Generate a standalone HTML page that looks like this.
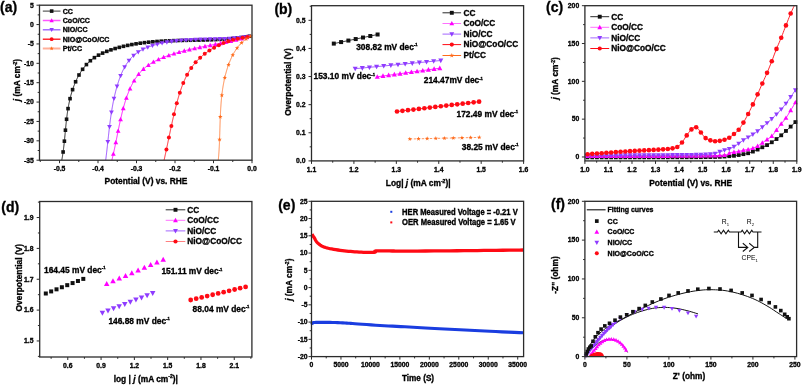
<!DOCTYPE html>
<html><head><meta charset="utf-8"><style>
html,body{margin:0;padding:0;background:#fff;width:804px;height:386px;overflow:hidden}
svg{display:block;will-change:transform}
</style></head><body>
<svg width="804" height="386" viewBox="0 0 804 386" font-family='"Liberation Sans", sans-serif'><style>text{stroke:#000;stroke-width:0.32px;paint-order:stroke}</style><rect width="804" height="386" fill="#fff"/><text x="0.00" y="11.90" font-size="14" font-weight="bold" fill="#000">(a)</text><g><path d="M250.92 35.97 L250.04 36.13 L249.16 36.29 L248.27 36.44 L247.38 36.59 L246.50 36.73 L245.61 36.87 L244.72 37.00 L243.83 37.14 L242.94 37.26 L242.05 37.39 L241.16 37.50 L240.27 37.62 L239.38 37.73 L238.49 37.84 L237.59 37.95 L236.70 38.05 L235.81 38.14 L234.91 38.24 L234.02 38.33 L233.12 38.42 L232.22 38.50 L231.33 38.59 L230.43 38.67 L229.53 38.74 L228.63 38.82 L227.73 38.89 L226.83 38.96 L225.93 39.02 L225.03 39.08 L224.13 39.14 L223.23 39.20 L222.33 39.26 L221.43 39.31 L220.52 39.36 L219.62 39.41 L218.72 39.46 L217.81 39.50 L216.91 39.55 L216.01 39.59 L215.10 39.63 L214.20 39.66 L213.29 39.70 L212.39 39.74 L211.48 39.77 L210.57 39.80 L209.67 39.83 L208.76 39.86 L207.85 39.88 L206.95 39.91 L206.04 39.94 L205.13 39.96 L204.23 39.98 L203.32 40.00 L202.41 40.03 L201.50 40.05 L200.59 40.07 L199.68 40.08 L198.78 40.10 L197.87 40.12 L196.96 40.14 L196.05 40.15 L195.14 40.17 L194.23 40.19 L193.32 40.20 L192.41 40.22 L191.50 40.24 L190.59 40.25 L189.69 40.27 L188.78 40.28 L187.87 40.30 L186.96 40.32 L186.05 40.33 L185.14 40.35 L184.23 40.37 L183.32 40.39 L182.41 40.41 L181.50 40.43 L180.59 40.45 L179.68 40.47 L178.78 40.49 L177.87 40.51 L176.96 40.54 L176.05 40.56 L175.14 40.59 L174.23 40.62 L173.33 40.65 L172.42 40.68 L171.51 40.71 L170.60 40.74 L169.70 40.78 L168.79 40.81 L167.88 40.85 L166.98 40.89 L166.07 40.93 L165.17 40.98 L164.26 41.02 L163.35 41.07 L162.45 41.12 L161.55 41.17 L160.64 41.22 L159.74 41.28 L158.83 41.34 L157.93 41.40 L157.03 41.46 L156.13 41.53 L155.22 41.60 L154.32 41.67 L153.42 41.74 L152.52 41.82 L151.62 41.90 L150.72 41.98 L149.82 42.07 L148.92 42.16 L148.02 42.25 L147.12 42.35 L146.23 42.45 L145.33 42.55 L144.43 42.66 L143.54 42.76 L142.64 42.88 L141.75 42.99 L140.85 43.11 L139.96 43.24 L139.07 43.37 L138.17 43.50 L137.28 43.63 L136.39 43.77 L135.50 43.92 L134.61 44.07 L133.72 44.22 L132.83 44.37 L131.94 44.54 L131.05 44.70 L130.17 44.87 L129.28 45.05 L128.40 45.23 L127.51 45.41 L126.63 45.60 L125.75 45.79 L124.86 45.99 L123.98 46.19 L123.10 46.40 L122.22 46.62 L121.34 46.84 L120.46 47.06 L119.59 47.29 L118.71 47.53 L117.83 47.77 L116.96 48.01 L116.08 48.26 L115.21 48.52 L114.34 48.78 L113.47 49.05 L112.60 49.33 L111.73 49.61 L110.86 49.90 L110.00 50.19 L109.14 50.49 L108.28 50.80 L107.42 51.12 L106.57 51.45 L105.73 51.78 L104.89 52.13 L104.05 52.48 L103.22 52.84 L102.40 53.21 L101.58 53.59 L100.77 53.99 L99.97 54.39 L99.17 54.80 L98.38 55.23 L97.60 55.67 L96.83 56.11 L96.07 56.58 L95.32 57.05 L94.58 57.54 L93.85 58.03 L93.13 58.55 L92.42 59.07 L91.73 59.62 L91.04 60.17 L90.37 60.74 L89.71 61.32 L89.06 61.92 L88.42 62.53 L87.79 63.15 L87.18 63.78 L86.57 64.42 L85.98 65.08 L85.40 65.75 L84.83 66.43 L84.26 67.12 L83.72 67.82 L83.18 68.53 L82.65 69.25 L82.13 69.98 L81.62 70.72 L81.13 71.47 L80.64 72.22 L80.16 72.99 L79.69 73.76 L79.24 74.54 L78.79 75.33 L78.35 76.13 L77.93 76.93 L77.51 77.74 L77.10 78.56 L76.70 79.38 L76.31 80.21 L75.93 81.04 L75.56 81.88 L75.19 82.72 L74.84 83.57 L74.50 84.42 L74.16 85.27 L73.83 86.13 L73.51 87.00 L73.20 87.86 L72.90 88.73 L72.61 89.60 L72.32 90.48 L72.04 91.35 L71.78 92.23 L71.51 93.10 L71.26 93.98 L71.01 94.86 L70.78 95.74 L70.54 96.63 L70.32 97.51 L70.10 98.39 L69.89 99.28 L69.69 100.17 L69.49 101.05 L69.30 101.94 L69.11 102.83 L68.93 103.72 L68.76 104.61 L68.59 105.50 L68.43 106.40 L68.27 107.29 L68.12 108.18 L67.97 109.08 L67.82 109.97 L67.68 110.87 L67.55 111.76 L67.42 112.66 L67.29 113.56 L67.17 114.46 L67.05 115.35 L66.93 116.25 L66.82 117.15 L66.71 118.05 L66.60 118.95 L66.50 119.85 L66.40 120.75 L66.30 121.65 L66.20 122.55 L66.11 123.45 L66.01 124.35 L65.92 125.26 L65.83 126.16 L65.74 127.06 L65.66 127.96 L65.57 128.86 L65.48 129.76 L65.40 130.66 L65.31 131.56 L65.23 132.46 L65.14 133.36 L65.06 134.26 L64.97 135.16 L64.89 136.06 L64.80 136.96 L64.72 137.86 L64.63 138.76 L64.54 139.66 L64.45 140.56 L64.36 141.46 L64.27 142.35 L64.17 143.25 L64.07 144.14 L63.97 145.04 L63.87 145.93 L63.77 146.83 L63.66 147.72 L63.55 148.61 L63.44 149.51 L63.32 150.40 L63.20 151.29 L63.08 152.18 L62.95 153.07 L62.82 153.95 L62.69 154.84 L62.55 155.73 L62.41 156.61 L62.26 157.50 L62.11 158.38 L61.95 159.26 L61.79 160.14" stroke="#111111" stroke-width="0.9" fill="none" stroke-linejoin="round" /><rect x="61.31" y="150.18" width="3.60" height="3.60" fill="#111111"/><rect x="62.59" y="139.37" width="3.60" height="3.60" fill="#111111"/><rect x="63.64" y="128.38" width="3.60" height="3.60" fill="#111111"/><rect x="64.77" y="117.45" width="3.60" height="3.60" fill="#111111"/><rect x="66.24" y="106.82" width="3.60" height="3.60" fill="#111111"/><rect x="68.24" y="96.85" width="3.60" height="3.60" fill="#111111"/><rect x="70.79" y="87.85" width="3.60" height="3.60" fill="#111111"/><rect x="73.81" y="79.96" width="3.60" height="3.60" fill="#111111"/><rect x="77.18" y="73.20" width="3.60" height="3.60" fill="#111111"/><rect x="80.81" y="67.50" width="3.60" height="3.60" fill="#111111"/><rect x="84.63" y="62.78" width="3.60" height="3.60" fill="#111111"/><rect x="88.58" y="58.93" width="3.60" height="3.60" fill="#111111"/><rect x="92.62" y="55.85" width="3.60" height="3.60" fill="#111111"/><rect x="96.72" y="53.36" width="3.60" height="3.60" fill="#111111"/><rect x="100.85" y="51.30" width="3.60" height="3.60" fill="#111111"/><rect x="105.00" y="49.56" width="3.60" height="3.60" fill="#111111"/><rect x="109.16" y="48.06" width="3.60" height="3.60" fill="#111111"/><rect x="113.33" y="46.74" width="3.60" height="3.60" fill="#111111"/><rect x="117.51" y="45.56" width="3.60" height="3.60" fill="#111111"/><rect x="121.69" y="44.51" width="3.60" height="3.60" fill="#111111"/><rect x="125.88" y="43.58" width="3.60" height="3.60" fill="#111111"/><rect x="130.06" y="42.75" width="3.60" height="3.60" fill="#111111"/><rect x="134.26" y="42.03" width="3.60" height="3.60" fill="#111111"/><rect x="138.45" y="41.40" width="3.60" height="3.60" fill="#111111"/><rect x="142.64" y="40.85" width="3.60" height="3.60" fill="#111111"/><rect x="146.84" y="40.39" width="3.60" height="3.60" fill="#111111"/><rect x="151.04" y="39.99" width="3.60" height="3.60" fill="#111111"/><rect x="155.24" y="39.66" width="3.60" height="3.60" fill="#111111"/><rect x="159.44" y="39.39" width="3.60" height="3.60" fill="#111111"/><rect x="163.63" y="39.16" width="3.60" height="3.60" fill="#111111"/><rect x="167.83" y="38.98" width="3.60" height="3.60" fill="#111111"/><rect x="172.03" y="38.83" width="3.60" height="3.60" fill="#111111"/><rect x="176.23" y="38.71" width="3.60" height="3.60" fill="#111111"/><rect x="180.43" y="38.61" width="3.60" height="3.60" fill="#111111"/><rect x="184.63" y="38.53" width="3.60" height="3.60" fill="#111111"/><rect x="188.83" y="38.45" width="3.60" height="3.60" fill="#111111"/><rect x="193.03" y="38.38" width="3.60" height="3.60" fill="#111111"/><rect x="197.23" y="38.30" width="3.60" height="3.60" fill="#111111"/><rect x="201.43" y="38.21" width="3.60" height="3.60" fill="#111111"/><rect x="205.63" y="38.10" width="3.60" height="3.60" fill="#111111"/><rect x="209.83" y="37.96" width="3.60" height="3.60" fill="#111111"/><rect x="214.03" y="37.80" width="3.60" height="3.60" fill="#111111"/><rect x="218.23" y="37.59" width="3.60" height="3.60" fill="#111111"/><rect x="222.43" y="37.34" width="3.60" height="3.60" fill="#111111"/><rect x="226.63" y="37.03" width="3.60" height="3.60" fill="#111111"/><rect x="230.83" y="36.67" width="3.60" height="3.60" fill="#111111"/><rect x="235.02" y="36.23" width="3.60" height="3.60" fill="#111111"/><rect x="239.22" y="35.72" width="3.60" height="3.60" fill="#111111"/><rect x="243.41" y="35.13" width="3.60" height="3.60" fill="#111111"/><rect x="247.61" y="34.45" width="3.60" height="3.60" fill="#111111"/><path d="M250.93 36.07 L250.25 36.28 L249.57 36.48 L248.89 36.69 L248.21 36.89 L247.53 37.08 L246.85 37.28 L246.17 37.47 L245.48 37.66 L244.80 37.84 L244.12 38.03 L243.43 38.21 L242.75 38.39 L242.06 38.57 L241.38 38.74 L240.70 38.92 L240.01 39.09 L239.32 39.26 L238.64 39.43 L237.95 39.59 L237.27 39.76 L236.58 39.92 L235.89 40.08 L235.20 40.24 L234.52 40.40 L233.83 40.55 L233.14 40.71 L232.45 40.86 L231.76 41.01 L231.07 41.16 L230.38 41.31 L229.69 41.46 L229.00 41.60 L228.31 41.75 L227.62 41.89 L226.93 42.04 L226.24 42.18 L225.55 42.32 L224.86 42.46 L224.17 42.60 L223.48 42.74 L222.79 42.87 L222.10 43.01 L221.40 43.15 L220.71 43.28 L220.02 43.42 L219.33 43.55 L218.64 43.68 L217.94 43.82 L217.25 43.95 L216.56 44.08 L215.87 44.22 L215.17 44.35 L214.48 44.48 L213.79 44.61 L213.10 44.74 L212.40 44.88 L211.71 45.01 L211.02 45.14 L210.33 45.27 L209.63 45.40 L208.94 45.54 L208.25 45.67 L207.56 45.80 L206.86 45.94 L206.17 46.07 L205.48 46.21 L204.79 46.34 L204.09 46.48 L203.40 46.61 L202.71 46.75 L202.02 46.89 L201.32 47.02 L200.63 47.16 L199.94 47.30 L199.25 47.45 L198.56 47.59 L197.86 47.73 L197.17 47.87 L196.48 48.02 L195.79 48.17 L195.10 48.31 L194.41 48.46 L193.72 48.61 L193.03 48.76 L192.34 48.92 L191.65 49.07 L190.96 49.23 L190.27 49.38 L189.58 49.54 L188.89 49.70 L188.20 49.87 L187.51 50.03 L186.82 50.20 L186.14 50.37 L185.45 50.54 L184.76 50.71 L184.07 50.88 L183.39 51.06 L182.70 51.24 L182.01 51.42 L181.33 51.60 L180.64 51.78 L179.96 51.97 L179.27 52.16 L178.59 52.35 L177.90 52.55 L177.22 52.74 L176.53 52.94 L175.85 53.15 L175.17 53.35 L174.48 53.56 L173.80 53.77 L173.12 53.98 L172.44 54.20 L171.76 54.42 L171.08 54.64 L170.40 54.86 L169.72 55.09 L169.04 55.32 L168.36 55.56 L167.68 55.79 L167.00 56.04 L166.33 56.28 L165.65 56.53 L164.98 56.78 L164.31 57.04 L163.64 57.29 L162.97 57.56 L162.30 57.83 L161.64 58.10 L160.98 58.38 L160.32 58.66 L159.66 58.94 L159.01 59.23 L158.36 59.53 L157.71 59.83 L157.07 60.14 L156.43 60.45 L155.79 60.76 L155.16 61.09 L154.53 61.41 L153.91 61.75 L153.29 62.09 L152.68 62.43 L152.07 62.78 L151.47 63.14 L150.87 63.50 L150.28 63.87 L149.69 64.25 L149.11 64.63 L148.54 65.02 L147.97 65.42 L147.41 65.82 L146.85 66.24 L146.30 66.65 L145.76 67.08 L145.23 67.51 L144.70 67.95 L144.18 68.40 L143.67 68.86 L143.17 69.32 L142.67 69.79 L142.18 70.27 L141.70 70.76 L141.23 71.25 L140.76 71.75 L140.30 72.26 L139.85 72.77 L139.40 73.29 L138.96 73.82 L138.53 74.35 L138.11 74.89 L137.69 75.44 L137.27 75.99 L136.87 76.55 L136.47 77.11 L136.08 77.68 L135.69 78.25 L135.31 78.83 L134.93 79.42 L134.56 80.01 L134.20 80.60 L133.84 81.20 L133.49 81.80 L133.15 82.41 L132.81 83.03 L132.47 83.65 L132.14 84.27 L131.82 84.89 L131.50 85.52 L131.18 86.16 L130.88 86.80 L130.57 87.44 L130.27 88.08 L129.98 88.73 L129.69 89.38 L129.41 90.04 L129.13 90.70 L128.85 91.36 L128.58 92.02 L128.32 92.69 L128.05 93.36 L127.80 94.03 L127.54 94.70 L127.29 95.38 L127.05 96.06 L126.81 96.74 L126.57 97.42 L126.34 98.10 L126.11 98.79 L125.88 99.48 L125.66 100.16 L125.44 100.85 L125.22 101.54 L125.01 102.23 L124.80 102.93 L124.59 103.62 L124.39 104.31 L124.19 105.00 L123.99 105.70 L123.79 106.39 L123.60 107.09 L123.41 107.78 L123.23 108.48 L123.04 109.17 L122.86 109.86 L122.68 110.56 L122.50 111.25 L122.33 111.94 L122.15 112.63 L121.98 113.32 L121.81 114.02 L121.65 114.71 L121.48 115.40 L121.32 116.09 L121.16 116.78 L121.00 117.47 L120.84 118.16 L120.68 118.85 L120.53 119.54 L120.38 120.22 L120.22 120.91 L120.07 121.60 L119.92 122.29 L119.78 122.98 L119.63 123.67 L119.48 124.35 L119.34 125.04 L119.20 125.73 L119.05 126.42 L118.91 127.10 L118.77 127.79 L118.63 128.48 L118.49 129.16 L118.35 129.85 L118.21 130.54 L118.07 131.22 L117.93 131.91 L117.80 132.60 L117.66 133.28 L117.52 133.97 L117.39 134.66 L117.25 135.34 L117.11 136.03 L116.98 136.72 L116.84 137.40 L116.70 138.09 L116.56 138.78 L116.43 139.46 L116.29 140.15 L116.15 140.84 L116.01 141.53 L115.87 142.21 L115.73 142.90 L115.59 143.59 L115.45 144.28 L115.31 144.97 L115.16 145.65 L115.02 146.34 L114.87 147.03 L114.73 147.72 L114.58 148.41 L114.43 149.10 L114.28 149.79 L114.13 150.48 L113.98 151.17 L113.83 151.86 L113.67 152.55 L113.51 153.24 L113.36 153.93 L113.20 154.62 L113.03 155.31 L112.87 156.01 L112.71 156.70 L112.54 157.39 L112.37 158.09 L112.20 158.78 L112.02 159.47 L111.85 160.17" stroke="#ff00ff" stroke-width="0.9" fill="none" stroke-linejoin="round" /><path d="M113.35 151.49L115.71 155.79L110.98 155.79Z" fill="#ff00ff"/><path d="M115.81 140.04L118.18 144.34L113.45 144.34Z" fill="#ff00ff"/><path d="M118.14 128.42L120.50 132.72L115.77 132.72Z" fill="#ff00ff"/><path d="M120.56 116.92L122.93 121.22L118.20 121.22Z" fill="#ff00ff"/><path d="M123.27 105.83L125.64 110.13L120.91 110.13Z" fill="#ff00ff"/><path d="M126.40 95.45L128.76 99.75L124.03 99.75Z" fill="#ff00ff"/><path d="M130.03 86.15L132.39 90.45L127.66 90.45Z" fill="#ff00ff"/><path d="M134.14 78.22L136.51 82.52L131.78 82.52Z" fill="#ff00ff"/><path d="M138.65 71.74L141.01 76.04L136.28 76.04Z" fill="#ff00ff"/><path d="M143.42 66.62L145.79 70.92L141.06 70.92Z" fill="#ff00ff"/><path d="M148.37 62.66L150.74 66.96L146.01 66.96Z" fill="#ff00ff"/><path d="M153.42 59.54L155.79 63.84L151.06 63.84Z" fill="#ff00ff"/><path d="M158.52 56.98L160.89 61.28L156.16 61.28Z" fill="#ff00ff"/><path d="M163.65 54.82L166.01 59.12L161.28 59.12Z" fill="#ff00ff"/><path d="M168.79 52.93L171.16 57.23L166.43 57.23Z" fill="#ff00ff"/><path d="M173.95 51.25L176.31 55.55L171.58 55.55Z" fill="#ff00ff"/><path d="M179.11 49.73L181.48 54.03L176.75 54.03Z" fill="#ff00ff"/><path d="M184.28 48.36L186.65 52.66L181.92 52.66Z" fill="#ff00ff"/><path d="M189.46 47.10L191.82 51.40L187.09 51.40Z" fill="#ff00ff"/><path d="M194.64 45.94L197.00 50.24L192.27 50.24Z" fill="#ff00ff"/><path d="M199.82 44.86L202.19 49.16L197.46 49.16Z" fill="#ff00ff"/><path d="M205.00 43.83L207.37 48.13L202.64 48.13Z" fill="#ff00ff"/><path d="M210.19 42.83L212.55 47.13L207.82 47.13Z" fill="#ff00ff"/><path d="M215.37 41.84L217.74 46.14L213.01 46.14Z" fill="#ff00ff"/><path d="M220.56 40.84L222.92 45.14L218.19 45.14Z" fill="#ff00ff"/><path d="M225.74 39.81L228.11 44.11L223.38 44.11Z" fill="#ff00ff"/><path d="M230.92 38.72L233.29 43.02L228.56 43.02Z" fill="#ff00ff"/><path d="M236.10 37.56L238.47 41.86L233.74 41.86Z" fill="#ff00ff"/><path d="M241.28 36.30L243.64 40.60L238.91 40.60Z" fill="#ff00ff"/><path d="M246.45 34.92L248.81 39.22L244.08 39.22Z" fill="#ff00ff"/><path d="M250.90 36.05 L250.15 36.19 L249.40 36.32 L248.65 36.45 L247.90 36.57 L247.15 36.69 L246.40 36.80 L245.65 36.92 L244.89 37.02 L244.14 37.13 L243.38 37.23 L242.63 37.32 L241.87 37.41 L241.11 37.50 L240.35 37.59 L239.59 37.67 L238.83 37.75 L238.07 37.83 L237.31 37.90 L236.55 37.97 L235.78 38.04 L235.02 38.10 L234.25 38.16 L233.49 38.22 L232.72 38.28 L231.96 38.33 L231.19 38.38 L230.42 38.43 L229.65 38.48 L228.88 38.53 L228.11 38.57 L227.34 38.61 L226.57 38.65 L225.80 38.68 L225.03 38.72 L224.26 38.75 L223.48 38.79 L222.71 38.82 L221.94 38.85 L221.16 38.87 L220.39 38.90 L219.62 38.92 L218.84 38.95 L218.06 38.97 L217.29 38.99 L216.51 39.01 L215.74 39.03 L214.96 39.05 L214.18 39.07 L213.41 39.09 L212.63 39.11 L211.85 39.13 L211.07 39.14 L210.29 39.16 L209.52 39.18 L208.74 39.19 L207.96 39.21 L207.18 39.23 L206.40 39.25 L205.62 39.26 L204.84 39.28 L204.06 39.30 L203.29 39.32 L202.51 39.34 L201.73 39.36 L200.95 39.38 L200.17 39.40 L199.39 39.42 L198.61 39.44 L197.83 39.47 L197.05 39.49 L196.27 39.52 L195.50 39.54 L194.72 39.57 L193.94 39.60 L193.16 39.64 L192.38 39.67 L191.60 39.70 L190.83 39.74 L190.05 39.78 L189.27 39.82 L188.49 39.86 L187.72 39.91 L186.94 39.96 L186.16 40.00 L185.39 40.06 L184.61 40.11 L183.84 40.17 L183.06 40.23 L182.29 40.29 L181.51 40.35 L180.74 40.42 L179.96 40.49 L179.19 40.56 L178.42 40.64 L177.65 40.72 L176.88 40.80 L176.10 40.88 L175.33 40.97 L174.56 41.07 L173.79 41.16 L173.03 41.26 L172.26 41.36 L171.49 41.47 L170.72 41.58 L169.95 41.70 L169.19 41.82 L168.42 41.94 L167.66 42.07 L166.90 42.20 L166.13 42.33 L165.37 42.47 L164.61 42.62 L163.85 42.77 L163.09 42.92 L162.33 43.08 L161.57 43.24 L160.81 43.41 L160.05 43.58 L159.30 43.76 L158.54 43.94 L157.79 44.13 L157.03 44.33 L156.28 44.52 L155.53 44.73 L154.78 44.94 L154.03 45.15 L153.28 45.38 L152.54 45.60 L151.79 45.84 L151.05 46.08 L150.32 46.33 L149.58 46.58 L148.85 46.85 L148.13 47.12 L147.40 47.39 L146.69 47.68 L145.98 47.97 L145.27 48.28 L144.57 48.59 L143.87 48.90 L143.18 49.23 L142.50 49.57 L141.82 49.92 L141.15 50.27 L140.49 50.64 L139.84 51.01 L139.19 51.40 L138.56 51.79 L137.93 52.20 L137.31 52.62 L136.70 53.05 L136.09 53.49 L135.50 53.94 L134.92 54.40 L134.35 54.87 L133.79 55.36 L133.24 55.85 L132.70 56.36 L132.18 56.88 L131.66 57.41 L131.15 57.95 L130.65 58.50 L130.16 59.06 L129.68 59.64 L129.21 60.22 L128.75 60.80 L128.29 61.40 L127.85 62.01 L127.42 62.63 L126.99 63.25 L126.57 63.88 L126.16 64.52 L125.76 65.17 L125.37 65.83 L124.99 66.49 L124.61 67.16 L124.24 67.83 L123.88 68.51 L123.52 69.20 L123.18 69.90 L122.84 70.60 L122.50 71.30 L122.18 72.01 L121.86 72.72 L121.54 73.44 L121.24 74.17 L120.94 74.90 L120.64 75.63 L120.36 76.36 L120.07 77.10 L119.80 77.84 L119.53 78.59 L119.26 79.34 L119.00 80.09 L118.75 80.84 L118.50 81.59 L118.25 82.35 L118.01 83.11 L117.77 83.87 L117.54 84.63 L117.32 85.39 L117.09 86.15 L116.87 86.91 L116.66 87.67 L116.45 88.43 L116.24 89.19 L116.04 89.95 L115.84 90.71 L115.64 91.47 L115.45 92.23 L115.26 92.99 L115.07 93.75 L114.89 94.51 L114.71 95.27 L114.53 96.03 L114.36 96.80 L114.19 97.56 L114.02 98.32 L113.86 99.08 L113.70 99.84 L113.54 100.60 L113.39 101.36 L113.24 102.12 L113.09 102.88 L112.94 103.64 L112.80 104.40 L112.66 105.16 L112.52 105.92 L112.38 106.68 L112.25 107.44 L112.12 108.20 L111.99 108.96 L111.86 109.72 L111.74 110.48 L111.61 111.24 L111.49 112.00 L111.37 112.76 L111.26 113.52 L111.14 114.28 L111.03 115.05 L110.92 115.81 L110.81 116.57 L110.70 117.33 L110.60 118.09 L110.50 118.85 L110.39 119.61 L110.29 120.37 L110.19 121.13 L110.09 121.90 L110.00 122.66 L109.90 123.42 L109.81 124.18 L109.71 124.94 L109.62 125.71 L109.53 126.47 L109.44 127.23 L109.35 127.99 L109.26 128.76 L109.17 129.52 L109.09 130.28 L109.00 131.04 L108.92 131.81 L108.83 132.57 L108.75 133.33 L108.66 134.10 L108.58 134.86 L108.49 135.62 L108.41 136.39 L108.33 137.15 L108.25 137.92 L108.16 138.68 L108.08 139.45 L108.00 140.21 L107.92 140.98 L107.84 141.74 L107.75 142.51 L107.67 143.27 L107.59 144.04 L107.50 144.80 L107.42 145.57 L107.34 146.34 L107.25 147.10 L107.17 147.87 L107.08 148.64 L106.99 149.40 L106.91 150.17 L106.82 150.94 L106.73 151.71 L106.64 152.48 L106.55 153.24 L106.46 154.01 L106.37 154.78 L106.27 155.55 L106.18 156.32 L106.08 157.09 L105.99 157.86 L105.89 158.63 L105.79 159.40 L105.69 160.17" stroke="#8f3cff" stroke-width="0.9" fill="none" stroke-linejoin="round" /><path d="M107.82 144.32L110.19 140.02L105.46 140.02Z" fill="#8f3cff"/><path d="M109.49 129.31L111.85 125.01L107.12 125.01Z" fill="#8f3cff"/><path d="M111.45 114.73L113.82 110.43L109.09 110.43Z" fill="#8f3cff"/><path d="M113.96 101.09L116.32 96.79L111.59 96.79Z" fill="#8f3cff"/><path d="M117.03 88.82L119.40 84.52L114.67 84.52Z" fill="#8f3cff"/><path d="M120.61 78.18L122.98 73.88L118.25 73.88Z" fill="#8f3cff"/><path d="M124.65 69.56L127.01 65.26L122.28 65.26Z" fill="#8f3cff"/><path d="M129.01 62.94L131.38 58.64L126.65 58.64Z" fill="#8f3cff"/><path d="M133.58 58.02L135.95 53.72L131.22 53.72Z" fill="#8f3cff"/><path d="M138.26 54.46L140.62 50.16L135.89 50.16Z" fill="#8f3cff"/><path d="M142.99 51.80L145.36 47.50L140.63 47.50Z" fill="#8f3cff"/><path d="M147.75 49.73L150.12 45.43L145.39 45.43Z" fill="#8f3cff"/><path d="M152.53 48.08L154.89 43.78L150.16 43.78Z" fill="#8f3cff"/><path d="M157.31 46.73L159.67 42.43L154.94 42.43Z" fill="#8f3cff"/><path d="M162.10 45.60L164.46 41.30L159.73 41.30Z" fill="#8f3cff"/><path d="M166.89 44.67L169.25 40.37L164.52 40.37Z" fill="#8f3cff"/><path d="M171.68 43.92L174.05 39.62L169.32 39.62Z" fill="#8f3cff"/><path d="M176.48 43.32L178.84 39.02L174.11 39.02Z" fill="#8f3cff"/><path d="M181.28 42.84L183.64 38.54L178.91 38.54Z" fill="#8f3cff"/><path d="M186.08 42.48L188.44 38.18L183.71 38.18Z" fill="#8f3cff"/><path d="M190.88 42.21L193.24 37.91L188.51 37.91Z" fill="#8f3cff"/><path d="M195.67 42.01L198.04 37.71L193.31 37.71Z" fill="#8f3cff"/><path d="M200.47 41.86L202.84 37.56L198.11 37.56Z" fill="#8f3cff"/><path d="M205.27 41.74L207.64 37.44L202.91 37.44Z" fill="#8f3cff"/><path d="M210.07 41.64L212.44 37.34L207.71 37.34Z" fill="#8f3cff"/><path d="M214.87 41.53L217.24 37.23L212.51 37.23Z" fill="#8f3cff"/><path d="M219.67 41.39L222.04 37.09L217.31 37.09Z" fill="#8f3cff"/><path d="M224.47 41.22L226.84 36.92L222.11 36.92Z" fill="#8f3cff"/><path d="M229.27 40.98L231.64 36.68L226.91 36.68Z" fill="#8f3cff"/><path d="M234.07 40.65L236.44 36.35L231.71 36.35Z" fill="#8f3cff"/><path d="M238.87 40.22L241.24 35.92L236.51 35.92Z" fill="#8f3cff"/><path d="M243.67 39.66L246.03 35.36L241.30 35.36Z" fill="#8f3cff"/><path d="M248.46 38.95L250.83 34.65L246.10 34.65Z" fill="#8f3cff"/><path d="M251.14 36.64 L250.58 36.69 L250.03 36.73 L249.48 36.78 L248.93 36.84 L248.37 36.90 L247.82 36.96 L247.26 37.02 L246.71 37.09 L246.16 37.16 L245.60 37.23 L245.05 37.31 L244.50 37.39 L243.94 37.48 L243.39 37.57 L242.84 37.66 L242.29 37.75 L241.73 37.85 L241.18 37.95 L240.63 38.06 L240.08 38.16 L239.53 38.28 L238.98 38.39 L238.43 38.51 L237.88 38.63 L237.33 38.76 L236.78 38.89 L236.23 39.02 L235.69 39.15 L235.14 39.29 L234.59 39.43 L234.05 39.58 L233.50 39.73 L232.96 39.88 L232.42 40.03 L231.88 40.19 L231.34 40.36 L230.80 40.52 L230.26 40.69 L229.72 40.86 L229.19 41.04 L228.65 41.22 L228.12 41.40 L227.58 41.58 L227.05 41.77 L226.52 41.96 L225.99 42.16 L225.47 42.36 L224.94 42.56 L224.42 42.76 L223.89 42.97 L223.37 43.18 L222.85 43.40 L222.33 43.61 L221.81 43.84 L221.30 44.06 L220.79 44.29 L220.27 44.52 L219.76 44.75 L219.25 44.99 L218.75 45.23 L218.24 45.48 L217.74 45.72 L217.24 45.97 L216.74 46.23 L216.24 46.49 L215.75 46.75 L215.26 47.01 L214.76 47.28 L214.28 47.55 L213.79 47.82 L213.30 48.10 L212.82 48.38 L212.34 48.66 L211.86 48.95 L211.39 49.23 L210.92 49.53 L210.45 49.82 L209.98 50.12 L209.51 50.42 L209.05 50.73 L208.59 51.04 L208.13 51.35 L207.68 51.66 L207.23 51.98 L206.78 52.30 L206.33 52.63 L205.88 52.96 L205.44 53.29 L205.00 53.62 L204.57 53.96 L204.14 54.30 L203.71 54.64 L203.28 54.99 L202.86 55.34 L202.44 55.69 L202.02 56.05 L201.60 56.40 L201.19 56.77 L200.78 57.13 L200.38 57.50 L199.98 57.87 L199.58 58.25 L199.19 58.63 L198.79 59.01 L198.41 59.39 L198.02 59.78 L197.64 60.17 L197.26 60.56 L196.89 60.96 L196.52 61.36 L196.15 61.76 L195.79 62.17 L195.43 62.58 L195.08 62.99 L194.72 63.40 L194.38 63.82 L194.03 64.24 L193.69 64.67 L193.36 65.09 L193.02 65.52 L192.70 65.96 L192.37 66.39 L192.05 66.83 L191.73 67.28 L191.42 67.72 L191.11 68.17 L190.81 68.62 L190.51 69.08 L190.21 69.53 L189.92 69.99 L189.62 70.45 L189.34 70.92 L189.05 71.38 L188.77 71.85 L188.50 72.33 L188.23 72.80 L187.96 73.28 L187.69 73.76 L187.43 74.24 L187.17 74.72 L186.91 75.21 L186.66 75.70 L186.41 76.19 L186.16 76.68 L185.91 77.18 L185.67 77.67 L185.44 78.17 L185.20 78.67 L184.97 79.18 L184.74 79.68 L184.51 80.19 L184.29 80.69 L184.06 81.20 L183.85 81.72 L183.63 82.23 L183.42 82.74 L183.20 83.26 L183.00 83.78 L182.79 84.30 L182.59 84.82 L182.38 85.34 L182.19 85.87 L181.99 86.39 L181.79 86.92 L181.60 87.44 L181.41 87.97 L181.22 88.50 L181.04 89.03 L180.85 89.57 L180.67 90.10 L180.49 90.63 L180.31 91.17 L180.14 91.70 L179.96 92.24 L179.79 92.78 L179.62 93.32 L179.45 93.86 L179.28 94.40 L179.12 94.94 L178.95 95.48 L178.79 96.02 L178.63 96.56 L178.47 97.11 L178.31 97.65 L178.15 98.19 L178.00 98.74 L177.84 99.28 L177.69 99.83 L177.54 100.37 L177.39 100.92 L177.24 101.46 L177.09 102.01 L176.94 102.55 L176.80 103.10 L176.65 103.64 L176.51 104.19 L176.37 104.74 L176.22 105.28 L176.08 105.83 L175.94 106.37 L175.80 106.92 L175.66 107.46 L175.52 108.01 L175.39 108.56 L175.25 109.10 L175.12 109.65 L174.98 110.19 L174.85 110.74 L174.71 111.28 L174.58 111.83 L174.45 112.37 L174.32 112.92 L174.19 113.46 L174.06 114.01 L173.93 114.55 L173.80 115.10 L173.67 115.64 L173.55 116.19 L173.42 116.73 L173.30 117.28 L173.17 117.82 L173.05 118.37 L172.92 118.91 L172.80 119.46 L172.68 120.00 L172.55 120.55 L172.43 121.09 L172.31 121.64 L172.19 122.18 L172.07 122.73 L171.95 123.27 L171.83 123.82 L171.71 124.36 L171.59 124.90 L171.48 125.45 L171.36 125.99 L171.24 126.54 L171.12 127.08 L171.01 127.62 L170.89 128.17 L170.78 128.71 L170.66 129.25 L170.54 129.80 L170.43 130.34 L170.31 130.88 L170.20 131.43 L170.09 131.97 L169.97 132.51 L169.86 133.06 L169.74 133.60 L169.63 134.14 L169.52 134.68 L169.40 135.23 L169.29 135.77 L169.18 136.31 L169.06 136.85 L168.95 137.40 L168.84 137.94 L168.73 138.48 L168.61 139.02 L168.50 139.56 L168.39 140.10 L168.28 140.65 L168.16 141.19 L168.05 141.73 L167.94 142.27 L167.83 142.81 L167.71 143.35 L167.60 143.89 L167.49 144.43 L167.37 144.97 L167.26 145.51 L167.15 146.05 L167.03 146.59 L166.92 147.13 L166.81 147.67 L166.69 148.21 L166.58 148.75 L166.46 149.29 L166.35 149.83 L166.23 150.37 L166.12 150.91 L166.00 151.44 L165.89 151.98 L165.77 152.52 L165.65 153.06 L165.54 153.60 L165.42 154.13 L165.30 154.67 L165.18 155.21 L165.07 155.75 L164.95 156.28 L164.83 156.82 L164.71 157.36 L164.59 157.89 L164.47 158.43 L164.35 158.97 L164.23 159.50 L164.10 160.04" stroke="#ff0a14" stroke-width="0.9" fill="none" stroke-linejoin="round" /><circle cx="166.44" cy="149.39" r="2.00" fill="#ff0a14"/><circle cx="168.91" cy="137.62" r="2.00" fill="#ff0a14"/><circle cx="171.38" cy="125.88" r="2.00" fill="#ff0a14"/><circle cx="173.98" cy="114.34" r="2.00" fill="#ff0a14"/><circle cx="176.77" cy="103.19" r="2.00" fill="#ff0a14"/><circle cx="179.84" cy="92.64" r="2.00" fill="#ff0a14"/><circle cx="183.28" cy="83.09" r="2.00" fill="#ff0a14"/><circle cx="187.11" cy="74.84" r="2.00" fill="#ff0a14"/><circle cx="191.26" cy="67.96" r="2.00" fill="#ff0a14"/><circle cx="195.63" cy="62.34" r="2.00" fill="#ff0a14"/><circle cx="200.15" cy="57.71" r="2.00" fill="#ff0a14"/><circle cx="204.75" cy="53.81" r="2.00" fill="#ff0a14"/><circle cx="209.41" cy="50.49" r="2.00" fill="#ff0a14"/><circle cx="214.10" cy="47.64" r="2.00" fill="#ff0a14"/><circle cx="218.83" cy="45.20" r="2.00" fill="#ff0a14"/><circle cx="223.57" cy="43.10" r="2.00" fill="#ff0a14"/><circle cx="228.33" cy="41.32" r="2.00" fill="#ff0a14"/><circle cx="233.10" cy="39.84" r="2.00" fill="#ff0a14"/><circle cx="237.88" cy="38.63" r="2.00" fill="#ff0a14"/><circle cx="242.67" cy="37.69" r="2.00" fill="#ff0a14"/><circle cx="247.47" cy="37.00" r="2.00" fill="#ff0a14"/><path d="M250.95 36.08 L250.54 36.29 L250.12 36.51 L249.71 36.73 L249.31 36.96 L248.91 37.19 L248.52 37.42 L248.12 37.66 L247.74 37.91 L247.36 38.15 L246.98 38.40 L246.61 38.66 L246.24 38.92 L245.87 39.18 L245.51 39.44 L245.15 39.71 L244.80 39.99 L244.45 40.26 L244.11 40.54 L243.77 40.83 L243.43 41.12 L243.10 41.41 L242.77 41.70 L242.44 42.00 L242.12 42.30 L241.80 42.60 L241.49 42.91 L241.18 43.22 L240.87 43.54 L240.57 43.85 L240.27 44.17 L239.98 44.49 L239.68 44.82 L239.39 45.15 L239.11 45.48 L238.83 45.81 L238.55 46.15 L238.28 46.49 L238.00 46.83 L237.74 47.18 L237.47 47.53 L237.21 47.88 L236.95 48.23 L236.70 48.58 L236.44 48.94 L236.20 49.30 L235.95 49.66 L235.71 50.03 L235.47 50.40 L235.23 50.76 L235.00 51.14 L234.77 51.51 L234.54 51.88 L234.31 52.26 L234.09 52.64 L233.87 53.02 L233.65 53.40 L233.44 53.79 L233.23 54.17 L233.02 54.56 L232.82 54.95 L232.61 55.34 L232.41 55.74 L232.21 56.13 L232.02 56.53 L231.82 56.92 L231.63 57.32 L231.44 57.72 L231.26 58.12 L231.08 58.53 L230.89 58.93 L230.71 59.34 L230.54 59.74 L230.36 60.15 L230.19 60.56 L230.02 60.97 L229.85 61.38 L229.69 61.79 L229.52 62.20 L229.36 62.61 L229.20 63.03 L229.04 63.44 L228.88 63.86 L228.73 64.27 L228.58 64.69 L228.43 65.11 L228.28 65.52 L228.13 65.94 L227.99 66.36 L227.84 66.78 L227.70 67.20 L227.56 67.62 L227.42 68.04 L227.29 68.47 L227.15 68.89 L227.02 69.31 L226.89 69.74 L226.76 70.16 L226.63 70.59 L226.51 71.01 L226.38 71.44 L226.26 71.87 L226.14 72.30 L226.02 72.72 L225.91 73.15 L225.79 73.58 L225.68 74.01 L225.56 74.44 L225.45 74.87 L225.34 75.31 L225.24 75.74 L225.13 76.17 L225.03 76.60 L224.92 77.04 L224.82 77.47 L224.72 77.91 L224.62 78.34 L224.52 78.78 L224.43 79.21 L224.33 79.65 L224.24 80.09 L224.15 80.53 L224.06 80.96 L223.97 81.40 L223.88 81.84 L223.80 82.28 L223.71 82.72 L223.63 83.16 L223.55 83.60 L223.47 84.04 L223.39 84.49 L223.31 84.93 L223.24 85.37 L223.16 85.81 L223.09 86.26 L223.01 86.70 L222.94 87.14 L222.87 87.59 L222.80 88.03 L222.73 88.48 L222.67 88.92 L222.60 89.37 L222.54 89.81 L222.47 90.26 L222.41 90.71 L222.35 91.15 L222.29 91.60 L222.23 92.05 L222.17 92.50 L222.12 92.94 L222.06 93.39 L222.01 93.84 L221.95 94.29 L221.90 94.74 L221.85 95.19 L221.80 95.64 L221.75 96.09 L221.70 96.54 L221.65 96.99 L221.61 97.44 L221.56 97.89 L221.51 98.34 L221.47 98.79 L221.43 99.25 L221.39 99.70 L221.34 100.15 L221.30 100.60 L221.26 101.05 L221.22 101.51 L221.19 101.96 L221.15 102.41 L221.11 102.87 L221.08 103.32 L221.04 103.77 L221.01 104.23 L220.97 104.68 L220.94 105.13 L220.91 105.59 L220.88 106.04 L220.85 106.50 L220.82 106.95 L220.79 107.40 L220.76 107.86 L220.73 108.31 L220.70 108.77 L220.67 109.22 L220.65 109.68 L220.62 110.13 L220.60 110.59 L220.57 111.04 L220.55 111.50 L220.52 111.95 L220.50 112.41 L220.48 112.86 L220.46 113.32 L220.43 113.77 L220.41 114.23 L220.39 114.68 L220.37 115.14 L220.35 115.59 L220.33 116.05 L220.31 116.50 L220.30 116.96 L220.28 117.41 L220.26 117.87 L220.24 118.32 L220.22 118.78 L220.21 119.23 L220.19 119.69 L220.17 120.14 L220.16 120.60 L220.14 121.05 L220.13 121.50 L220.11 121.96 L220.10 122.41 L220.08 122.87 L220.07 123.32 L220.05 123.77 L220.04 124.23 L220.02 124.68 L220.01 125.13 L219.99 125.59 L219.98 126.04 L219.97 126.49 L219.95 126.95 L219.94 127.40 L219.93 127.85 L219.91 128.30 L219.90 128.76 L219.89 129.21 L219.87 129.66 L219.86 130.11 L219.85 130.56 L219.83 131.01 L219.82 131.46 L219.81 131.92 L219.79 132.37 L219.78 132.82 L219.77 133.27 L219.75 133.72 L219.74 134.16 L219.73 134.61 L219.71 135.06 L219.70 135.51 L219.68 135.96 L219.67 136.41 L219.66 136.85 L219.64 137.30 L219.63 137.75 L219.61 138.20 L219.60 138.64 L219.58 139.09 L219.56 139.53 L219.55 139.98 L219.53 140.42 L219.51 140.87 L219.50 141.31 L219.48 141.76 L219.46 142.20 L219.44 142.64 L219.43 143.09 L219.41 143.53 L219.39 143.97 L219.37 144.41 L219.35 144.85 L219.33 145.30 L219.31 145.74 L219.29 146.18 L219.26 146.62 L219.24 147.05 L219.22 147.49 L219.20 147.93 L219.17 148.37 L219.15 148.81 L219.12 149.24 L219.10 149.68 L219.07 150.12 L219.05 150.55 L219.02 150.99 L218.99 151.42 L218.96 151.85 L218.93 152.29 L218.90 152.72 L218.87 153.15 L218.84 153.59 L218.81 154.02 L218.78 154.45 L218.75 154.88 L218.71 155.31 L218.68 155.74 L218.64 156.16 L218.61 156.59 L218.57 157.02 L218.53 157.45 L218.50 157.87 L218.46 158.30 L218.42 158.72 L218.38 159.15 L218.33 159.57 L218.29 160.00" stroke="#ff6a1a" stroke-width="0.8" fill="none" stroke-linejoin="round" /><polygon points="219.56,137.18 220.13,138.76 221.81,138.81 220.48,139.84 220.95,141.45 219.56,140.51 218.17,141.45 218.64,139.84 217.31,138.81 219.00,138.76" fill="#ff6a1a"/><polygon points="220.30,114.47 220.87,116.06 222.55,116.11 221.22,117.14 221.69,118.75 220.30,117.81 218.91,118.75 219.38,117.14 218.05,116.11 219.73,116.06" fill="#ff6a1a"/><polygon points="221.84,92.91 222.41,94.49 224.09,94.54 222.76,95.57 223.23,97.18 221.84,96.24 220.45,97.18 220.92,95.57 219.59,94.54 221.27,94.49" fill="#ff6a1a"/><polygon points="224.77,75.32 225.34,76.91 227.02,76.96 225.69,77.99 226.16,79.60 224.77,78.66 223.38,79.60 223.85,77.99 222.52,76.96 224.20,76.91" fill="#ff6a1a"/><polygon points="228.56,62.37 229.13,63.95 230.81,64.00 229.48,65.03 229.95,66.65 228.56,65.70 227.17,66.65 227.64,65.03 226.31,64.00 227.99,63.95" fill="#ff6a1a"/><polygon points="232.74,52.74 233.30,54.32 234.98,54.38 233.66,55.41 234.13,57.02 232.74,56.07 231.34,57.02 231.81,55.41 230.49,54.38 232.17,54.32" fill="#ff6a1a"/><polygon points="237.11,45.65 237.68,47.23 239.36,47.28 238.03,48.31 238.50,49.93 237.11,48.98 235.72,49.93 236.19,48.31 234.86,47.28 236.54,47.23" fill="#ff6a1a"/><polygon points="241.59,40.45 242.16,42.03 243.84,42.08 242.51,43.11 242.98,44.73 241.59,43.78 240.20,44.73 240.67,43.11 239.34,42.08 241.02,42.03" fill="#ff6a1a"/><polygon points="246.12,36.63 246.69,38.21 248.37,38.27 247.04,39.30 247.51,40.91 246.12,39.96 244.73,40.91 245.20,39.30 243.88,38.27 245.56,38.21" fill="#ff6a1a"/><polygon points="250.69,33.85 251.26,35.43 252.94,35.48 251.61,36.51 252.08,38.13 250.69,37.18 249.30,38.13 249.77,36.51 248.44,35.48 250.12,35.43" fill="#ff6a1a"/></g><rect x="39.50" y="5.20" width="212.50" height="155.00" fill="none" stroke="#2b2b2b" stroke-width="1.3"/><path d="M59.52 160.20v3.0M98.01 160.20v3.0M136.51 160.20v3.0M175.01 160.20v3.0M213.50 160.20v3.0M252.00 160.20v3.0M40.27 160.20v1.8M78.77 160.20v1.8M117.26 160.20v1.8M155.76 160.20v1.8M194.26 160.20v1.8M232.75 160.20v1.8" stroke="#2b2b2b" stroke-width="1" fill="none"/><text x="59.52" y="171.14" font-size="6.8" font-weight="bold" text-anchor="middle" fill="#000" >-0.5</text><text x="98.01" y="171.14" font-size="6.8" font-weight="bold" text-anchor="middle" fill="#000" >-0.4</text><text x="136.51" y="171.14" font-size="6.8" font-weight="bold" text-anchor="middle" fill="#000" >-0.3</text><text x="175.01" y="171.14" font-size="6.8" font-weight="bold" text-anchor="middle" fill="#000" >-0.2</text><text x="213.50" y="171.14" font-size="6.8" font-weight="bold" text-anchor="middle" fill="#000" >-0.1</text><text x="252.00" y="171.14" font-size="6.8" font-weight="bold" text-anchor="middle" fill="#000" >0.0</text><path d="M39.50 5.20h-3.0M39.50 24.57h-3.0M39.50 43.95h-3.0M39.50 63.32h-3.0M39.50 82.70h-3.0M39.50 102.07h-3.0M39.50 121.45h-3.0M39.50 140.82h-3.0M39.50 160.20h-3.0M39.50 14.89h-1.8M39.50 34.26h-1.8M39.50 53.64h-1.8M39.50 73.01h-1.8M39.50 92.39h-1.8M39.50 111.76h-1.8M39.50 131.14h-1.8M39.50 150.51h-1.8" stroke="#2b2b2b" stroke-width="1" fill="none"/><text x="33.80" y="7.54" font-size="6.8" font-weight="bold" text-anchor="end" fill="#000" >5</text><text x="33.80" y="26.91" font-size="6.8" font-weight="bold" text-anchor="end" fill="#000" >0</text><text x="33.80" y="46.29" font-size="6.8" font-weight="bold" text-anchor="end" fill="#000" >-5</text><text x="33.80" y="65.66" font-size="6.8" font-weight="bold" text-anchor="end" fill="#000" >-10</text><text x="33.80" y="85.04" font-size="6.8" font-weight="bold" text-anchor="end" fill="#000" >-15</text><text x="33.80" y="104.41" font-size="6.8" font-weight="bold" text-anchor="end" fill="#000" >-20</text><text x="33.80" y="123.79" font-size="6.8" font-weight="bold" text-anchor="end" fill="#000" >-25</text><text x="33.80" y="143.16" font-size="6.8" font-weight="bold" text-anchor="end" fill="#000" >-30</text><text x="33.80" y="162.54" font-size="6.8" font-weight="bold" text-anchor="end" fill="#000" >-35</text><text x="146.00" y="184.49" font-size="8.4" font-weight="bold" text-anchor="middle" fill="#000" >Potential (V) vs. RHE</text><text transform="translate(17.40,80.00) rotate(-90)" x="0" y="2.89" font-size="8.4" font-weight="bold" text-anchor="middle" fill="#000"><tspan font-style="italic">j</tspan> (mA cm<tspan font-size="5.04" dy="-3.36">-2</tspan><tspan dy="3.36">)</tspan></text><path d="M42.80 11.10H60.50" stroke="#222" stroke-width="0.9"/><rect x="49.85" y="9.30" width="3.60" height="3.60" fill="#111111"/><text x="62.70" y="13.54" font-size="7.1" font-weight="bold" text-anchor="start" fill="#000" >CC</text><path d="M42.80 20.50H60.50" stroke="#ff55ff" stroke-width="1.5"/><path d="M51.65 18.20L53.85 22.20L49.45 22.20Z" fill="#ff00ff"/><text x="62.70" y="22.94" font-size="7.1" font-weight="bold" text-anchor="start" fill="#000" >CoO/CC</text><path d="M42.80 29.80H60.50" stroke="#9955ff" stroke-width="1.3"/><path d="M51.65 32.10L53.85 28.10L49.45 28.10Z" fill="#8f3cff"/><text x="62.70" y="32.24" font-size="7.1" font-weight="bold" text-anchor="start" fill="#000" >NiO/CC</text><path d="M42.80 39.20H60.50" stroke="#ff0a14" stroke-width="1.3"/><circle cx="51.65" cy="39.20" r="1.90" fill="#ff0a14"/><text x="62.70" y="41.64" font-size="7.1" font-weight="bold" text-anchor="start" fill="#000" >NiO@CoO/CC</text><path d="M42.80 48.50H60.50" stroke="#ffb09a" stroke-width="2.0"/><polygon points="51.65,46.30 52.18,47.77 53.74,47.82 52.51,48.78 52.94,50.28 51.65,49.40 50.36,50.28 50.79,48.78 49.56,47.82 51.12,47.77" fill="#ff6a1a"/><text x="62.70" y="50.94" font-size="7.1" font-weight="bold" text-anchor="start" fill="#000" >Pt/CC</text><text x="274.40" y="14.10" font-size="14" font-weight="bold" fill="#000">(b)</text><path d="M333.80 43.60L377.60 34.50" stroke="#111111" stroke-width="0.8"/><rect x="331.80" y="41.60" width="4.00" height="4.00" fill="#111111"/><rect x="339.10" y="40.08" width="4.00" height="4.00" fill="#111111"/><rect x="346.40" y="38.57" width="4.00" height="4.00" fill="#111111"/><rect x="353.70" y="37.05" width="4.00" height="4.00" fill="#111111"/><rect x="361.00" y="35.53" width="4.00" height="4.00" fill="#111111"/><rect x="368.30" y="34.02" width="4.00" height="4.00" fill="#111111"/><rect x="375.60" y="32.50" width="4.00" height="4.00" fill="#111111"/><path d="M355.20 68.70L440.80 60.50" stroke="#8f3cff" stroke-width="0.8"/><path d="M355.20 71.34L357.73 66.75L352.67 66.75Z" fill="#8f3cff"/><path d="M362.33 70.66L364.86 66.06L359.80 66.06Z" fill="#8f3cff"/><path d="M369.47 69.98L372.00 65.38L366.94 65.38Z" fill="#8f3cff"/><path d="M376.60 69.30L379.13 64.70L374.07 64.70Z" fill="#8f3cff"/><path d="M383.73 68.61L386.26 64.01L381.20 64.01Z" fill="#8f3cff"/><path d="M390.87 67.93L393.40 63.33L388.34 63.33Z" fill="#8f3cff"/><path d="M398.00 67.24L400.53 62.64L395.47 62.64Z" fill="#8f3cff"/><path d="M405.13 66.56L407.66 61.96L402.60 61.96Z" fill="#8f3cff"/><path d="M412.27 65.88L414.80 61.28L409.74 61.28Z" fill="#8f3cff"/><path d="M419.40 65.19L421.93 60.59L416.87 60.59Z" fill="#8f3cff"/><path d="M426.53 64.51L429.06 59.91L424.00 59.91Z" fill="#8f3cff"/><path d="M433.67 63.83L436.20 59.23L431.14 59.23Z" fill="#8f3cff"/><path d="M440.80 63.14L443.33 58.55L438.27 58.55Z" fill="#8f3cff"/><path d="M377.30 76.80L439.80 68.20" stroke="#ff00ff" stroke-width="0.8"/><path d="M377.30 74.16L379.83 78.75L374.77 78.75Z" fill="#ff00ff"/><path d="M382.98 73.37L385.51 77.97L380.45 77.97Z" fill="#ff00ff"/><path d="M388.66 72.59L391.19 77.19L386.13 77.19Z" fill="#ff00ff"/><path d="M394.35 71.81L396.88 76.41L391.82 76.41Z" fill="#ff00ff"/><path d="M400.03 71.03L402.56 75.63L397.50 75.63Z" fill="#ff00ff"/><path d="M405.71 70.25L408.24 74.85L403.18 74.85Z" fill="#ff00ff"/><path d="M411.39 69.46L413.92 74.06L408.86 74.06Z" fill="#ff00ff"/><path d="M417.07 68.68L419.60 73.28L414.54 73.28Z" fill="#ff00ff"/><path d="M422.75 67.90L425.28 72.50L420.22 72.50Z" fill="#ff00ff"/><path d="M428.44 67.12L430.97 71.72L425.91 71.72Z" fill="#ff00ff"/><path d="M434.12 66.34L436.65 70.94L431.59 70.94Z" fill="#ff00ff"/><path d="M439.80 65.56L442.33 70.16L437.27 70.16Z" fill="#ff00ff"/><path d="M397.00 111.50L479.10 101.70" stroke="#ff0a14" stroke-width="0.8"/><circle cx="397.00" cy="111.50" r="2.35" fill="#ff0a14"/><circle cx="402.47" cy="110.85" r="2.35" fill="#ff0a14"/><circle cx="407.95" cy="110.19" r="2.35" fill="#ff0a14"/><circle cx="413.42" cy="109.54" r="2.35" fill="#ff0a14"/><circle cx="418.89" cy="108.89" r="2.35" fill="#ff0a14"/><circle cx="424.37" cy="108.23" r="2.35" fill="#ff0a14"/><circle cx="429.84" cy="107.58" r="2.35" fill="#ff0a14"/><circle cx="435.31" cy="106.93" r="2.35" fill="#ff0a14"/><circle cx="440.79" cy="106.27" r="2.35" fill="#ff0a14"/><circle cx="446.26" cy="105.62" r="2.35" fill="#ff0a14"/><circle cx="451.73" cy="104.97" r="2.35" fill="#ff0a14"/><circle cx="457.21" cy="104.31" r="2.35" fill="#ff0a14"/><circle cx="462.68" cy="103.66" r="2.35" fill="#ff0a14"/><circle cx="468.15" cy="103.01" r="2.35" fill="#ff0a14"/><circle cx="473.63" cy="102.35" r="2.35" fill="#ff0a14"/><circle cx="479.10" cy="101.70" r="2.35" fill="#ff0a14"/><path d="M409.8 139L479.3 137.4" stroke="#ff8a50" stroke-width="0.9" stroke-dasharray="2.4 1.6"/><polygon points="409.80,136.69 410.36,138.24 412.00,138.29 410.70,139.29 411.16,140.87 409.80,139.94 408.44,140.87 408.90,139.29 407.60,138.29 409.24,138.24" fill="#ff6a1a"/><polygon points="418.49,136.49 419.04,138.04 420.68,138.09 419.39,139.09 419.85,140.67 418.49,139.75 417.13,140.67 417.59,139.09 416.29,138.09 417.93,138.04" fill="#ff6a1a"/><polygon points="427.18,136.29 427.73,137.84 429.37,137.89 428.07,138.89 428.53,140.47 427.18,139.54 425.82,140.47 426.28,138.89 424.98,137.89 426.62,137.84" fill="#ff6a1a"/><polygon points="435.86,136.09 436.42,137.64 438.06,137.69 436.76,138.69 437.22,140.27 435.86,139.34 434.50,140.27 434.96,138.69 433.67,137.69 435.31,137.64" fill="#ff6a1a"/><polygon points="444.55,135.89 445.11,137.44 446.75,137.49 445.45,138.49 445.91,140.07 444.55,139.14 443.19,140.07 443.65,138.49 442.35,137.49 443.99,137.44" fill="#ff6a1a"/><polygon points="453.24,135.69 453.79,137.24 455.43,137.29 454.14,138.29 454.60,139.87 453.24,138.94 451.88,139.87 452.34,138.29 451.04,137.29 452.68,137.24" fill="#ff6a1a"/><polygon points="461.93,135.49 462.48,137.04 464.12,137.09 462.82,138.09 463.28,139.67 461.93,138.75 460.57,139.67 461.03,138.09 459.73,137.09 461.37,137.04" fill="#ff6a1a"/><polygon points="470.61,135.29 471.17,136.84 472.81,136.89 471.51,137.89 471.97,139.47 470.61,138.54 469.25,139.47 469.71,137.89 468.42,136.89 470.06,136.84" fill="#ff6a1a"/><polygon points="479.30,135.09 479.86,136.64 481.50,136.69 480.20,137.69 480.66,139.27 479.30,138.34 477.94,139.27 478.40,137.69 477.10,136.69 478.74,136.64" fill="#ff6a1a"/><text x="356.20" y="49.59" font-size="8.4" font-weight="bold" fill="#000">308.82 mV dec<tspan font-size="4.20" dy="-3.78">-1</tspan></text><text x="313.50" y="79.39" font-size="8.4" font-weight="bold" fill="#000">153.10 mV dec<tspan font-size="4.20" dy="-3.78">-1</tspan></text><text x="423.8" y="83.39" font-size="8.4" font-weight="bold" fill="#000">214.47mV dec<tspan font-size="4.2" dy="-3.8">-1</tspan></text><text x="456.50" y="116.89" font-size="8.4" font-weight="bold" fill="#000">172.49 mV dec<tspan font-size="4.20" dy="-3.78">-1</tspan></text><text x="461.80" y="149.59" font-size="8.4" font-weight="bold" fill="#000">38.25 mV dec<tspan font-size="4.20" dy="-3.78">-1</tspan></text><rect x="311.50" y="5.70" width="212.10" height="155.20" fill="none" stroke="#2b2b2b" stroke-width="1.3"/><path d="M311.50 160.90v3.0M353.92 160.90v3.0M396.34 160.90v3.0M438.76 160.90v3.0M481.18 160.90v3.0M523.60 160.90v3.0M332.71 160.90v1.8M375.13 160.90v1.8M417.55 160.90v1.8M459.97 160.90v1.8M502.39 160.90v1.8" stroke="#2b2b2b" stroke-width="1" fill="none"/><text x="311.50" y="171.74" font-size="6.8" font-weight="bold" text-anchor="middle" fill="#000" >1.1</text><text x="353.92" y="171.74" font-size="6.8" font-weight="bold" text-anchor="middle" fill="#000" >1.2</text><text x="396.34" y="171.74" font-size="6.8" font-weight="bold" text-anchor="middle" fill="#000" >1.3</text><text x="438.76" y="171.74" font-size="6.8" font-weight="bold" text-anchor="middle" fill="#000" >1.4</text><text x="481.18" y="171.74" font-size="6.8" font-weight="bold" text-anchor="middle" fill="#000" >1.5</text><text x="523.60" y="171.74" font-size="6.8" font-weight="bold" text-anchor="middle" fill="#000" >1.6</text><path d="M311.50 160.90h-3.0M311.50 132.78h-3.0M311.50 104.67h-3.0M311.50 76.55h-3.0M311.50 48.44h-3.0M311.50 20.32h-3.0M311.50 146.84h-1.8M311.50 118.73h-1.8M311.50 90.61h-1.8M311.50 62.49h-1.8M311.50 34.38h-1.8M311.50 6.26h-1.8" stroke="#2b2b2b" stroke-width="1" fill="none"/><text x="305.50" y="163.24" font-size="6.8" font-weight="bold" text-anchor="end" fill="#000" >0.0</text><text x="305.50" y="135.12" font-size="6.8" font-weight="bold" text-anchor="end" fill="#000" >0.1</text><text x="305.50" y="107.01" font-size="6.8" font-weight="bold" text-anchor="end" fill="#000" >0.2</text><text x="305.50" y="78.89" font-size="6.8" font-weight="bold" text-anchor="end" fill="#000" >0.3</text><text x="305.50" y="50.78" font-size="6.8" font-weight="bold" text-anchor="end" fill="#000" >0.4</text><text x="305.50" y="22.66" font-size="6.8" font-weight="bold" text-anchor="end" fill="#000" >0.5</text><text x="418.2" y="186.29" font-size="8.4" font-weight="bold" text-anchor="middle" fill="#000">Log| <tspan font-style="italic">j</tspan> (mA cm<tspan font-size="5.04" dy="-3.36">-2</tspan><tspan dy="3.36">)|</tspan></text><text transform="translate(288.5,82) rotate(-90)" x="0" y="2.89" font-size="8.4" font-weight="bold" text-anchor="middle" fill="#000">Overpotential (V)</text><path d="M442.50 12.80H461.10" stroke="#111111" stroke-width="0.9"/><rect x="449.85" y="10.85" width="3.90" height="3.90" fill="#111111"/><text x="463.50" y="15.66" font-size="8.3" font-weight="bold" text-anchor="start" fill="#000" >CC</text><path d="M442.50 23.50H461.10" stroke="#ff70ff" stroke-width="1.0"/><path d="M451.80 20.97L454.22 25.37L449.38 25.37Z" fill="#ff00ff"/><text x="463.50" y="26.36" font-size="8.3" font-weight="bold" text-anchor="start" fill="#000" >CoO/CC</text><path d="M442.50 34.10H461.10" stroke="#a366ff" stroke-width="1.0"/><path d="M451.80 36.63L454.22 32.23L449.38 32.23Z" fill="#8f3cff"/><text x="463.50" y="36.96" font-size="8.3" font-weight="bold" text-anchor="start" fill="#000" >NiO/CC</text><path d="M442.50 44.60H461.10" stroke="#ff0a14" stroke-width="1.0"/><circle cx="451.80" cy="44.60" r="2.10" fill="#ff0a14"/><text x="463.50" y="47.46" font-size="8.3" font-weight="bold" text-anchor="start" fill="#000" >NiO@CoO/CC</text><path d="M442.50 55.50H461.10" stroke="#ff6a1a" stroke-width="1.0"/><polygon points="451.80,53.08 452.38,54.70 454.10,54.75 452.74,55.81 453.22,57.46 451.80,56.49 450.38,57.46 450.86,55.81 449.50,54.75 451.22,54.70" fill="#ff6a1a"/><text x="463.50" y="58.36" font-size="8.3" font-weight="bold" text-anchor="start" fill="#000" >Pt/CC</text><text x="546.00" y="12.25" font-size="14" font-weight="bold" fill="#000">(c)</text><path d="M585.00 157.40 L598.50 157.39 L617.99 157.38 L640.67 157.36 L663.76 157.33 L684.46 157.28 L700.00 157.20 L710.07 157.08 L716.85 156.93 L721.24 156.76 L724.17 156.58 L726.55 156.39 L729.30 156.20 L732.09 156.01 L734.12 155.80 L735.61 155.59 L736.74 155.38 L737.74 155.18 L738.80 155.00 L739.83 154.84 L740.64 154.70 L741.32 154.57 L741.92 154.45 L742.53 154.33 L743.20 154.20 L743.93 154.08 L744.66 153.96 L745.38 153.85 L746.11 153.73 L746.85 153.58 L747.60 153.40 L748.37 153.18 L749.15 152.94 L749.94 152.67 L750.73 152.39 L751.52 152.09 L752.30 151.80 L753.07 151.51 L753.84 151.20 L754.60 150.89 L755.36 150.57 L756.13 150.24 L756.90 149.90 L757.67 149.54 L758.44 149.16 L759.22 148.78 L760.00 148.38 L760.79 147.99 L761.60 147.60 L762.43 147.22 L763.29 146.85 L764.15 146.48 L765.01 146.10 L765.87 145.71 L766.70 145.30 L767.51 144.87 L768.30 144.41 L769.08 143.95 L769.86 143.47 L770.63 142.99 L771.40 142.50 L772.17 142.01 L772.93 141.52 L773.68 141.02 L774.44 140.50 L775.21 139.97 L776.00 139.40 L776.81 138.81 L777.63 138.19 L778.47 137.55 L779.31 136.89 L780.16 136.21 L781.00 135.50 L781.85 134.76 L782.71 133.97 L783.57 133.17 L784.43 132.36 L785.28 131.56 L786.10 130.80 L786.89 130.08 L787.64 129.40 L788.39 128.72 L789.13 128.05 L789.90 127.35 L790.70 126.60 L791.60 125.74 L792.61 124.78 L793.64 123.79 L794.60 122.86 L795.42 122.07 L796.00 121.50" stroke="#111111" stroke-width="0.9" fill="none" stroke-linejoin="round" /><rect x="585.60" y="155.50" width="3.80" height="3.80" fill="#111111"/><rect x="590.33" y="155.49" width="3.80" height="3.80" fill="#111111"/><rect x="595.05" y="155.49" width="3.80" height="3.80" fill="#111111"/><rect x="599.77" y="155.49" width="3.80" height="3.80" fill="#111111"/><rect x="604.50" y="155.48" width="3.80" height="3.80" fill="#111111"/><rect x="609.23" y="155.48" width="3.80" height="3.80" fill="#111111"/><rect x="613.95" y="155.48" width="3.80" height="3.80" fill="#111111"/><rect x="618.68" y="155.48" width="3.80" height="3.80" fill="#111111"/><rect x="623.40" y="155.47" width="3.80" height="3.80" fill="#111111"/><rect x="628.12" y="155.47" width="3.80" height="3.80" fill="#111111"/><rect x="632.85" y="155.47" width="3.80" height="3.80" fill="#111111"/><rect x="637.58" y="155.46" width="3.80" height="3.80" fill="#111111"/><rect x="642.30" y="155.46" width="3.80" height="3.80" fill="#111111"/><rect x="647.02" y="155.45" width="3.80" height="3.80" fill="#111111"/><rect x="651.75" y="155.45" width="3.80" height="3.80" fill="#111111"/><rect x="656.48" y="155.44" width="3.80" height="3.80" fill="#111111"/><rect x="661.20" y="155.43" width="3.80" height="3.80" fill="#111111"/><rect x="665.93" y="155.42" width="3.80" height="3.80" fill="#111111"/><rect x="670.65" y="155.41" width="3.80" height="3.80" fill="#111111"/><rect x="675.38" y="155.40" width="3.80" height="3.80" fill="#111111"/><rect x="680.10" y="155.39" width="3.80" height="3.80" fill="#111111"/><rect x="684.83" y="155.37" width="3.80" height="3.80" fill="#111111"/><rect x="689.55" y="155.35" width="3.80" height="3.80" fill="#111111"/><rect x="694.27" y="155.32" width="3.80" height="3.80" fill="#111111"/><rect x="699.00" y="155.29" width="3.80" height="3.80" fill="#111111"/><rect x="703.73" y="155.23" width="3.80" height="3.80" fill="#111111"/><rect x="708.45" y="155.18" width="3.80" height="3.80" fill="#111111"/><rect x="713.18" y="155.07" width="3.80" height="3.80" fill="#111111"/><rect x="717.90" y="154.92" width="3.80" height="3.80" fill="#111111"/><rect x="722.62" y="154.65" width="3.80" height="3.80" fill="#111111"/><rect x="727.35" y="154.30" width="3.80" height="3.80" fill="#111111"/><rect x="732.08" y="153.91" width="3.80" height="3.80" fill="#111111"/><rect x="736.80" y="153.12" width="3.80" height="3.80" fill="#111111"/><rect x="741.52" y="152.26" width="3.80" height="3.80" fill="#111111"/><rect x="746.25" y="151.34" width="3.80" height="3.80" fill="#111111"/><rect x="750.98" y="149.68" width="3.80" height="3.80" fill="#111111"/><rect x="755.70" y="147.67" width="3.80" height="3.80" fill="#111111"/><rect x="760.43" y="145.37" width="3.80" height="3.80" fill="#111111"/><rect x="765.15" y="143.21" width="3.80" height="3.80" fill="#111111"/><rect x="769.88" y="140.36" width="3.80" height="3.80" fill="#111111"/><rect x="774.60" y="137.13" width="3.80" height="3.80" fill="#111111"/><rect x="779.33" y="133.40" width="3.80" height="3.80" fill="#111111"/><rect x="784.05" y="129.04" width="3.80" height="3.80" fill="#111111"/><rect x="788.77" y="124.72" width="3.80" height="3.80" fill="#111111"/><rect x="793.50" y="120.18" width="3.80" height="3.80" fill="#111111"/><path d="M585.00 156.20 L600.48 156.16 L622.99 156.13 L649.11 156.07 L675.42 155.99 L698.52 155.83 L715.00 155.60 L724.13 155.24 L728.51 154.78 L729.68 154.25 L729.17 153.71 L728.53 153.21 L729.30 152.80 L731.22 152.48 L733.01 152.22 L734.67 152.00 L736.19 151.80 L737.57 151.61 L738.80 151.40 L739.83 151.18 L740.64 150.96 L741.32 150.75 L741.92 150.55 L742.53 150.36 L743.20 150.20 L743.93 150.07 L744.66 149.98 L745.38 149.90 L746.11 149.82 L746.85 149.73 L747.60 149.60 L748.37 149.44 L749.15 149.27 L749.94 149.09 L750.73 148.88 L751.52 148.65 L752.30 148.40 L753.07 148.12 L753.84 147.83 L754.60 147.51 L755.36 147.17 L756.13 146.80 L756.90 146.40 L757.68 145.96 L758.46 145.49 L759.25 144.98 L760.04 144.46 L760.82 143.93 L761.60 143.40 L762.37 142.87 L763.12 142.34 L763.87 141.79 L764.63 141.24 L765.40 140.68 L766.20 140.10 L767.04 139.53 L767.91 138.97 L768.80 138.39 L769.69 137.79 L770.56 137.13 L771.40 136.40 L772.20 135.59 L772.97 134.71 L773.72 133.78 L774.47 132.80 L775.22 131.81 L776.00 130.80 L776.80 129.77 L777.60 128.70 L778.41 127.61 L779.23 126.50 L780.06 125.39 L780.90 124.30 L781.76 123.23 L782.63 122.17 L783.52 121.11 L784.40 120.04 L785.26 118.94 L786.10 117.80 L786.89 116.62 L787.65 115.42 L788.39 114.19 L789.14 112.93 L789.90 111.64 L790.70 110.30 L791.60 108.81 L792.61 107.14 L793.64 105.43 L794.60 103.83 L795.42 102.47 L796.00 101.50" stroke="#ff00ff" stroke-width="0.9" fill="none" stroke-linejoin="round" /><path d="M587.50 153.66L589.92 158.06L585.08 158.06Z" fill="#ff00ff"/><path d="M592.23 153.65L594.64 158.05L589.81 158.05Z" fill="#ff00ff"/><path d="M596.95 153.64L599.37 158.04L594.53 158.04Z" fill="#ff00ff"/><path d="M601.67 153.63L604.09 158.03L599.25 158.03Z" fill="#ff00ff"/><path d="M606.40 153.62L608.82 158.02L603.98 158.02Z" fill="#ff00ff"/><path d="M611.12 153.61L613.54 158.01L608.71 158.01Z" fill="#ff00ff"/><path d="M615.85 153.61L618.27 158.01L613.43 158.01Z" fill="#ff00ff"/><path d="M620.58 153.60L623.00 158.00L618.16 158.00Z" fill="#ff00ff"/><path d="M625.30 153.59L627.72 157.99L622.88 157.99Z" fill="#ff00ff"/><path d="M630.02 153.58L632.44 157.98L627.61 157.98Z" fill="#ff00ff"/><path d="M634.75 153.57L637.17 157.97L632.33 157.97Z" fill="#ff00ff"/><path d="M639.48 153.56L641.89 157.96L637.06 157.96Z" fill="#ff00ff"/><path d="M644.20 153.55L646.62 157.95L641.78 157.95Z" fill="#ff00ff"/><path d="M648.92 153.55L651.34 157.95L646.50 157.95Z" fill="#ff00ff"/><path d="M653.65 153.53L656.07 157.93L651.23 157.93Z" fill="#ff00ff"/><path d="M658.38 153.51L660.79 157.91L655.96 157.91Z" fill="#ff00ff"/><path d="M663.10 153.50L665.52 157.90L660.68 157.90Z" fill="#ff00ff"/><path d="M667.83 153.48L670.25 157.88L665.41 157.88Z" fill="#ff00ff"/><path d="M672.55 153.46L674.97 157.86L670.13 157.86Z" fill="#ff00ff"/><path d="M677.27 153.44L679.69 157.84L674.86 157.84Z" fill="#ff00ff"/><path d="M682.00 153.41L684.42 157.81L679.58 157.81Z" fill="#ff00ff"/><path d="M686.73 153.38L689.14 157.78L684.31 157.78Z" fill="#ff00ff"/><path d="M691.45 153.35L693.87 157.75L689.03 157.75Z" fill="#ff00ff"/><path d="M696.17 153.32L698.59 157.72L693.75 157.72Z" fill="#ff00ff"/><path d="M700.90 153.27L703.32 157.67L698.48 157.67Z" fill="#ff00ff"/><path d="M705.62 153.20L708.04 157.60L703.21 157.60Z" fill="#ff00ff"/><path d="M710.35 153.14L712.77 157.54L707.93 157.54Z" fill="#ff00ff"/><path d="M715.08 153.07L717.50 157.47L712.66 157.47Z" fill="#ff00ff"/><path d="M719.80 152.88L722.22 157.28L717.38 157.28Z" fill="#ff00ff"/><path d="M724.52 152.67L726.94 157.07L722.11 157.07Z" fill="#ff00ff"/><path d="M729.25 150.63L731.67 155.03L726.83 155.03Z" fill="#ff00ff"/><path d="M733.98 149.56L736.39 153.96L731.56 153.96Z" fill="#ff00ff"/><path d="M738.70 148.89L741.12 153.29L736.28 153.29Z" fill="#ff00ff"/><path d="M743.42 147.63L745.84 152.03L741.00 152.03Z" fill="#ff00ff"/><path d="M748.15 146.96L750.57 151.36L745.73 151.36Z" fill="#ff00ff"/><path d="M752.88 145.66L755.29 150.06L750.46 150.06Z" fill="#ff00ff"/><path d="M757.60 143.48L760.02 147.88L755.18 147.88Z" fill="#ff00ff"/><path d="M762.33 140.37L764.75 144.77L759.91 144.77Z" fill="#ff00ff"/><path d="M767.05 136.99L769.47 141.39L764.63 141.39Z" fill="#ff00ff"/><path d="M771.77 133.49L774.19 137.89L769.36 137.89Z" fill="#ff00ff"/><path d="M776.50 127.62L778.92 132.02L774.08 132.02Z" fill="#ff00ff"/><path d="M781.23 121.36L783.64 125.76L778.81 125.76Z" fill="#ff00ff"/><path d="M785.95 115.47L788.37 119.87L783.53 119.87Z" fill="#ff00ff"/><path d="M790.67 107.81L793.09 112.21L788.25 112.21Z" fill="#ff00ff"/><path d="M795.40 99.97L797.82 104.37L792.98 104.37Z" fill="#ff00ff"/><path d="M585.00 155.40 L598.62 155.34 L618.36 155.27 L641.29 155.18 L664.50 155.04 L685.04 154.86 L700.00 154.60 L708.92 154.24 L714.05 153.77 L716.52 153.25 L717.47 152.72 L718.02 152.22 L719.30 151.80 L720.96 151.46 L722.03 151.17 L722.69 150.91 L723.16 150.67 L723.63 150.44 L724.30 150.20 L725.14 149.97 L725.99 149.77 L726.84 149.57 L727.68 149.37 L728.50 149.15 L729.30 148.90 L730.07 148.62 L730.81 148.32 L731.53 148.01 L732.25 147.67 L732.97 147.30 L733.70 146.90 L734.44 146.46 L735.17 146.00 L735.91 145.50 L736.66 144.98 L737.42 144.45 L738.20 143.90 L739.01 143.32 L739.85 142.71 L740.71 142.08 L741.56 141.46 L742.40 140.85 L743.20 140.30 L743.96 139.80 L744.70 139.34 L745.42 138.90 L746.13 138.47 L746.86 138.05 L747.60 137.60 L748.37 137.14 L749.15 136.69 L749.94 136.22 L750.73 135.76 L751.52 135.29 L752.30 134.80 L753.07 134.31 L753.84 133.82 L754.60 133.32 L755.36 132.80 L756.13 132.27 L756.90 131.70 L757.68 131.10 L758.46 130.46 L759.25 129.81 L760.04 129.14 L760.82 128.47 L761.60 127.80 L762.37 127.15 L763.12 126.50 L763.87 125.84 L764.63 125.18 L765.40 124.50 L766.20 123.80 L767.04 123.07 L767.90 122.31 L768.78 121.54 L769.67 120.76 L770.54 119.98 L771.40 119.20 L772.23 118.43 L773.05 117.67 L773.86 116.90 L774.66 116.12 L775.48 115.33 L776.30 114.50 L777.14 113.65 L778.00 112.77 L778.86 111.87 L779.72 110.96 L780.57 110.03 L781.40 109.10 L782.20 108.17 L782.97 107.26 L783.74 106.32 L784.50 105.37 L785.29 104.36 L786.10 103.30 L786.96 102.15 L787.85 100.92 L788.76 99.65 L789.66 98.37 L790.55 97.11 L791.40 95.90 L792.26 94.68 L793.16 93.40 L794.03 92.14 L794.83 90.98 L795.51 90.01 L796.00 89.30" stroke="#8f3cff" stroke-width="0.9" fill="none" stroke-linejoin="round" /><path d="M587.50 157.92L589.92 153.52L585.08 153.52Z" fill="#8f3cff"/><path d="M592.23 157.90L594.64 153.50L589.81 153.50Z" fill="#8f3cff"/><path d="M596.95 157.87L599.37 153.47L594.53 153.47Z" fill="#8f3cff"/><path d="M601.67 157.86L604.09 153.46L599.25 153.46Z" fill="#8f3cff"/><path d="M606.40 157.84L608.82 153.44L603.98 153.44Z" fill="#8f3cff"/><path d="M611.12 157.82L613.54 153.42L608.71 153.42Z" fill="#8f3cff"/><path d="M615.85 157.81L618.27 153.41L613.43 153.41Z" fill="#8f3cff"/><path d="M620.58 157.79L623.00 153.39L618.16 153.39Z" fill="#8f3cff"/><path d="M625.30 157.77L627.72 153.37L622.88 153.37Z" fill="#8f3cff"/><path d="M630.02 157.75L632.44 153.35L627.61 153.35Z" fill="#8f3cff"/><path d="M634.75 157.73L637.17 153.33L632.33 153.33Z" fill="#8f3cff"/><path d="M639.48 157.71L641.89 153.31L637.06 153.31Z" fill="#8f3cff"/><path d="M644.20 157.69L646.62 153.29L641.78 153.29Z" fill="#8f3cff"/><path d="M648.92 157.66L651.34 153.26L646.50 153.26Z" fill="#8f3cff"/><path d="M653.65 157.64L656.07 153.24L651.23 153.24Z" fill="#8f3cff"/><path d="M658.38 157.61L660.79 153.21L655.96 153.21Z" fill="#8f3cff"/><path d="M663.10 157.58L665.52 153.18L660.68 153.18Z" fill="#8f3cff"/><path d="M667.83 157.54L670.25 153.14L665.41 153.14Z" fill="#8f3cff"/><path d="M672.55 157.50L674.97 153.10L670.13 153.10Z" fill="#8f3cff"/><path d="M677.27 157.46L679.69 153.06L674.86 153.06Z" fill="#8f3cff"/><path d="M682.00 157.42L684.42 153.02L679.58 153.02Z" fill="#8f3cff"/><path d="M686.73 157.36L689.14 152.96L684.31 152.96Z" fill="#8f3cff"/><path d="M691.45 157.28L693.87 152.88L689.03 152.88Z" fill="#8f3cff"/><path d="M696.17 157.20L698.59 152.80L693.75 152.80Z" fill="#8f3cff"/><path d="M700.90 157.09L703.32 152.69L698.48 152.69Z" fill="#8f3cff"/><path d="M705.62 156.90L708.04 152.50L703.21 152.50Z" fill="#8f3cff"/><path d="M710.35 156.64L712.77 152.24L707.93 152.24Z" fill="#8f3cff"/><path d="M715.08 156.09L717.50 151.69L712.66 151.69Z" fill="#8f3cff"/><path d="M719.80 154.23L722.22 149.83L717.38 149.83Z" fill="#8f3cff"/><path d="M724.52 152.67L726.94 148.27L722.11 148.27Z" fill="#8f3cff"/><path d="M729.25 151.45L731.67 147.05L726.83 147.05Z" fill="#8f3cff"/><path d="M733.98 149.27L736.39 144.87L731.56 144.87Z" fill="#8f3cff"/><path d="M738.70 146.08L741.12 141.68L736.28 141.68Z" fill="#8f3cff"/><path d="M743.42 142.68L745.84 138.28L741.00 138.28Z" fill="#8f3cff"/><path d="M748.15 139.80L750.57 135.40L745.73 135.40Z" fill="#8f3cff"/><path d="M752.88 136.96L755.29 132.56L750.46 132.56Z" fill="#8f3cff"/><path d="M757.60 133.69L760.02 129.29L755.18 129.29Z" fill="#8f3cff"/><path d="M762.33 129.71L764.75 125.31L759.91 125.31Z" fill="#8f3cff"/><path d="M767.05 125.59L769.47 121.19L764.63 121.19Z" fill="#8f3cff"/><path d="M771.77 121.38L774.19 116.98L769.36 116.98Z" fill="#8f3cff"/><path d="M776.50 116.83L778.92 112.43L774.08 112.43Z" fill="#8f3cff"/><path d="M781.23 111.83L783.64 107.43L778.81 107.43Z" fill="#8f3cff"/><path d="M785.95 106.03L788.37 101.63L783.53 101.63Z" fill="#8f3cff"/><path d="M790.67 99.46L793.09 95.06L788.25 95.06Z" fill="#8f3cff"/><path d="M795.40 92.69L797.82 88.29L792.98 88.29Z" fill="#8f3cff"/><path d="M585.00 154.40 L586.50 154.29 L588.48 154.14 L590.88 153.97 L593.63 153.77 L596.69 153.54 L600.00 153.30 L603.72 153.02 L607.93 152.70 L612.44 152.36 L617.07 152.02 L621.66 151.69 L626.00 151.40 L630.24 151.14 L634.53 150.90 L638.77 150.68 L642.84 150.47 L646.62 150.28 L650.00 150.10 L652.93 149.94 L655.49 149.80 L657.76 149.68 L659.81 149.56 L661.74 149.43 L663.60 149.30 L665.38 149.16 L667.00 149.03 L668.49 148.89 L669.86 148.74 L671.13 148.58 L672.30 148.40 L673.34 148.23 L674.22 148.08 L675.00 147.91 L675.72 147.70 L676.44 147.41 L677.20 147.00 L678.00 146.48 L678.79 145.88 L679.57 145.20 L680.35 144.44 L681.12 143.61 L681.90 142.70 L682.67 141.68 L683.44 140.53 L684.20 139.31 L684.96 138.07 L685.73 136.85 L686.50 135.70 L687.27 134.59 L688.05 133.46 L688.83 132.36 L689.61 131.33 L690.40 130.39 L691.20 129.60 L692.02 128.90 L692.86 128.24 L693.70 127.69 L694.54 127.29 L695.38 127.11 L696.20 127.20 L697.00 127.64 L697.79 128.39 L698.58 129.36 L699.35 130.43 L700.13 131.52 L700.90 132.50 L701.67 133.44 L702.44 134.44 L703.20 135.44 L703.96 136.40 L704.73 137.27 L705.50 138.00 L706.28 138.58 L707.06 139.06 L707.84 139.44 L708.63 139.76 L709.42 140.03 L710.20 140.30 L710.98 140.54 L711.77 140.75 L712.56 140.91 L713.34 141.04 L714.12 141.14 L714.90 141.20 L715.67 141.23 L716.44 141.22 L717.20 141.18 L717.96 141.10 L718.73 141.01 L719.50 140.90 L720.28 140.77 L721.06 140.62 L721.85 140.44 L722.64 140.25 L723.42 140.03 L724.20 139.80 L724.97 139.56 L725.73 139.32 L726.49 139.06 L727.25 138.77 L728.02 138.42 L728.80 138.00 L729.60 137.50 L730.40 136.94 L731.22 136.33 L732.04 135.68 L732.87 135.00 L733.70 134.30 L734.55 133.60 L735.41 132.88 L736.28 132.13 L737.14 131.34 L737.99 130.50 L738.80 129.60 L739.57 128.63 L740.32 127.59 L741.04 126.51 L741.76 125.37 L742.47 124.20 L743.20 123.00 L743.93 121.76 L744.66 120.49 L745.38 119.17 L746.11 117.82 L746.85 116.43 L747.60 115.00 L748.37 113.52 L749.15 111.98 L749.94 110.41 L750.73 108.81 L751.52 107.20 L752.30 105.60 L753.07 104.01 L753.84 102.43 L754.60 100.84 L755.36 99.23 L756.13 97.58 L756.90 95.90 L757.67 94.17 L758.44 92.40 L759.22 90.61 L760.00 88.79 L760.79 86.95 L761.60 85.10 L762.43 83.24 L763.29 81.35 L764.15 79.44 L765.01 77.53 L765.87 75.61 L766.70 73.70 L767.51 71.80 L768.30 69.90 L769.08 67.99 L769.86 66.08 L770.63 64.15 L771.40 62.20 L772.17 60.21 L772.93 58.19 L773.69 56.16 L774.45 54.12 L775.22 52.09 L776.00 50.10 L776.80 48.14 L777.62 46.22 L778.44 44.31 L779.27 42.39 L780.09 40.46 L780.90 38.50 L781.69 36.51 L782.47 34.50 L783.24 32.47 L784.01 30.43 L784.80 28.38 L785.60 26.30 L786.45 24.14 L787.33 21.89 L788.23 19.62 L789.10 17.41 L789.94 15.35 L790.70 13.50 L791.42 11.83 L792.11 10.27 L792.77 8.85 L793.35 7.61 L793.84 6.58 L794.20 5.80" stroke="#ff0a14" stroke-width="0.9" fill="none" stroke-linejoin="round" /><circle cx="587.50" cy="154.22" r="2.30" fill="#ff0a14"/><circle cx="592.23" cy="153.87" r="2.30" fill="#ff0a14"/><circle cx="596.95" cy="153.52" r="2.30" fill="#ff0a14"/><circle cx="601.67" cy="153.18" r="2.30" fill="#ff0a14"/><circle cx="606.40" cy="152.82" r="2.30" fill="#ff0a14"/><circle cx="611.12" cy="152.46" r="2.30" fill="#ff0a14"/><circle cx="615.85" cy="152.11" r="2.30" fill="#ff0a14"/><circle cx="620.58" cy="151.77" r="2.30" fill="#ff0a14"/><circle cx="625.30" cy="151.45" r="2.30" fill="#ff0a14"/><circle cx="630.02" cy="151.16" r="2.30" fill="#ff0a14"/><circle cx="634.75" cy="150.89" r="2.30" fill="#ff0a14"/><circle cx="639.48" cy="150.65" r="2.30" fill="#ff0a14"/><circle cx="644.20" cy="150.40" r="2.30" fill="#ff0a14"/><circle cx="648.92" cy="150.16" r="2.30" fill="#ff0a14"/><circle cx="653.65" cy="149.90" r="2.30" fill="#ff0a14"/><circle cx="658.38" cy="149.64" r="2.30" fill="#ff0a14"/><circle cx="663.10" cy="149.34" r="2.30" fill="#ff0a14"/><circle cx="667.83" cy="148.95" r="2.30" fill="#ff0a14"/><circle cx="672.55" cy="148.36" r="2.30" fill="#ff0a14"/><circle cx="677.27" cy="146.95" r="2.30" fill="#ff0a14"/><circle cx="682.00" cy="142.57" r="2.30" fill="#ff0a14"/><circle cx="686.73" cy="135.38" r="2.30" fill="#ff0a14"/><circle cx="691.45" cy="129.39" r="2.30" fill="#ff0a14"/><circle cx="696.17" cy="127.20" r="2.30" fill="#ff0a14"/><circle cx="700.90" cy="132.50" r="2.30" fill="#ff0a14"/><circle cx="705.62" cy="138.09" r="2.30" fill="#ff0a14"/><circle cx="710.35" cy="140.35" r="2.30" fill="#ff0a14"/><circle cx="715.08" cy="141.21" r="2.30" fill="#ff0a14"/><circle cx="719.80" cy="140.85" r="2.30" fill="#ff0a14"/><circle cx="724.52" cy="139.70" r="2.30" fill="#ff0a14"/><circle cx="729.25" cy="137.72" r="2.30" fill="#ff0a14"/><circle cx="733.98" cy="134.07" r="2.30" fill="#ff0a14"/><circle cx="738.70" cy="129.71" r="2.30" fill="#ff0a14"/><circle cx="743.42" cy="122.62" r="2.30" fill="#ff0a14"/><circle cx="748.15" cy="113.94" r="2.30" fill="#ff0a14"/><circle cx="752.88" cy="104.42" r="2.30" fill="#ff0a14"/><circle cx="757.60" cy="94.33" r="2.30" fill="#ff0a14"/><circle cx="762.33" cy="83.47" r="2.30" fill="#ff0a14"/><circle cx="767.05" cy="72.87" r="2.30" fill="#ff0a14"/><circle cx="771.77" cy="61.23" r="2.30" fill="#ff0a14"/><circle cx="776.50" cy="48.88" r="2.30" fill="#ff0a14"/><circle cx="781.23" cy="37.68" r="2.30" fill="#ff0a14"/><circle cx="785.95" cy="25.41" r="2.30" fill="#ff0a14"/><circle cx="790.67" cy="13.56" r="2.30" fill="#ff0a14"/><rect x="584.90" y="5.70" width="211.90" height="155.20" fill="none" stroke="#2b2b2b" stroke-width="1.3"/><path d="M584.90 160.90v3.0M608.44 160.90v3.0M631.99 160.90v3.0M655.53 160.90v3.0M679.08 160.90v3.0M702.62 160.90v3.0M726.17 160.90v3.0M749.71 160.90v3.0M773.26 160.90v3.0M796.80 160.90v3.0M596.67 160.90v1.8M620.22 160.90v1.8M643.76 160.90v1.8M667.31 160.90v1.8M690.85 160.90v1.8M714.39 160.90v1.8M737.94 160.90v1.8M761.48 160.90v1.8M785.03 160.90v1.8" stroke="#2b2b2b" stroke-width="1" fill="none"/><text x="584.90" y="171.64" font-size="6.8" font-weight="bold" text-anchor="middle" fill="#000" >1.0</text><text x="608.44" y="171.64" font-size="6.8" font-weight="bold" text-anchor="middle" fill="#000" >1.1</text><text x="631.99" y="171.64" font-size="6.8" font-weight="bold" text-anchor="middle" fill="#000" >1.2</text><text x="655.53" y="171.64" font-size="6.8" font-weight="bold" text-anchor="middle" fill="#000" >1.3</text><text x="679.08" y="171.64" font-size="6.8" font-weight="bold" text-anchor="middle" fill="#000" >1.4</text><text x="702.62" y="171.64" font-size="6.8" font-weight="bold" text-anchor="middle" fill="#000" >1.5</text><text x="726.17" y="171.64" font-size="6.8" font-weight="bold" text-anchor="middle" fill="#000" >1.6</text><text x="749.71" y="171.64" font-size="6.8" font-weight="bold" text-anchor="middle" fill="#000" >1.7</text><text x="773.26" y="171.64" font-size="6.8" font-weight="bold" text-anchor="middle" fill="#000" >1.8</text><text x="796.80" y="171.64" font-size="6.8" font-weight="bold" text-anchor="middle" fill="#000" >1.9</text><path d="M584.90 156.97h-3.0M584.90 119.15h-3.0M584.90 81.33h-3.0M584.90 43.52h-3.0M584.90 5.70h-3.0M584.90 138.06h-1.8M584.90 100.24h-1.8M584.90 62.43h-1.8M584.90 24.61h-1.8" stroke="#2b2b2b" stroke-width="1" fill="none"/><text x="579.20" y="159.31" font-size="6.8" font-weight="bold" text-anchor="end" fill="#000" >0</text><text x="579.20" y="121.49" font-size="6.8" font-weight="bold" text-anchor="end" fill="#000" >50</text><text x="579.20" y="83.67" font-size="6.8" font-weight="bold" text-anchor="end" fill="#000" >100</text><text x="579.20" y="45.86" font-size="6.8" font-weight="bold" text-anchor="end" fill="#000" >150</text><text x="579.20" y="8.04" font-size="6.8" font-weight="bold" text-anchor="end" fill="#000" >200</text><text x="690.70" y="185.59" font-size="8.4" font-weight="bold" text-anchor="middle" fill="#000" >Potential (V) vs. RHE</text><text transform="translate(555.00,78.40) rotate(-90)" x="0" y="2.89" font-size="8.4" font-weight="bold" text-anchor="middle" fill="#000"><tspan font-style="italic">j</tspan> (mA cm<tspan font-size="5.04" dy="-3.36">-2</tspan><tspan dy="3.36">)</tspan></text><path d="M590.30 16.70H609.20" stroke="#111111" stroke-width="0.9"/><rect x="597.80" y="14.75" width="3.90" height="3.90" fill="#111111"/><text x="611.20" y="19.56" font-size="8.3" font-weight="bold" text-anchor="start" fill="#000" >CC</text><path d="M590.30 27.30H609.20" stroke="#ff70ff" stroke-width="1.0"/><path d="M599.75 24.77L602.17 29.17L597.33 29.17Z" fill="#ff00ff"/><text x="611.20" y="30.16" font-size="8.3" font-weight="bold" text-anchor="start" fill="#000" >CoO/CC</text><path d="M590.30 37.90H609.20" stroke="#a366ff" stroke-width="1.0"/><path d="M599.75 40.43L602.17 36.03L597.33 36.03Z" fill="#8f3cff"/><text x="611.20" y="40.76" font-size="8.3" font-weight="bold" text-anchor="start" fill="#000" >NiO/CC</text><path d="M590.30 48.50H609.20" stroke="#ff0a14" stroke-width="1.0"/><circle cx="599.75" cy="48.50" r="2.10" fill="#ff0a14"/><text x="611.20" y="51.36" font-size="8.3" font-weight="bold" text-anchor="start" fill="#000" >NiO@CoO/CC</text><text x="1.30" y="212.20" font-size="14" font-weight="bold" fill="#000">(d)</text><rect x="43.80" y="291.50" width="4.00" height="4.00" fill="#111111"/><rect x="49.16" y="289.41" width="4.00" height="4.00" fill="#111111"/><rect x="54.51" y="287.33" width="4.00" height="4.00" fill="#111111"/><rect x="59.87" y="285.24" width="4.00" height="4.00" fill="#111111"/><rect x="65.23" y="283.16" width="4.00" height="4.00" fill="#111111"/><rect x="70.59" y="281.07" width="4.00" height="4.00" fill="#111111"/><rect x="75.94" y="278.99" width="4.00" height="4.00" fill="#111111"/><rect x="81.30" y="276.90" width="4.00" height="4.00" fill="#111111"/><path d="M106.70 281.02L109.45 286.02L103.95 286.02Z" fill="#ff00ff"/><path d="M112.98 278.32L115.73 283.32L110.23 283.32Z" fill="#ff00ff"/><path d="M119.26 275.62L122.01 280.62L116.51 280.62Z" fill="#ff00ff"/><path d="M125.53 272.93L128.28 277.93L122.78 277.93Z" fill="#ff00ff"/><path d="M131.81 270.23L134.56 275.23L129.06 275.23Z" fill="#ff00ff"/><path d="M138.09 267.52L140.84 272.52L135.34 272.52Z" fill="#ff00ff"/><path d="M144.37 264.82L147.12 269.82L141.62 269.82Z" fill="#ff00ff"/><path d="M150.64 262.12L153.39 267.12L147.89 267.12Z" fill="#ff00ff"/><path d="M156.92 259.43L159.67 264.43L154.17 264.43Z" fill="#ff00ff"/><path d="M163.20 256.73L165.95 261.73L160.45 261.73Z" fill="#ff00ff"/><path d="M102.40 315.68L105.15 310.68L99.65 310.68Z" fill="#8f3cff"/><path d="M107.99 313.50L110.74 308.50L105.24 308.50Z" fill="#8f3cff"/><path d="M113.58 311.32L116.33 306.32L110.83 306.32Z" fill="#8f3cff"/><path d="M119.17 309.14L121.92 304.14L116.42 304.14Z" fill="#8f3cff"/><path d="M124.76 306.96L127.51 301.96L122.01 301.96Z" fill="#8f3cff"/><path d="M130.34 304.79L133.09 299.79L127.59 299.79Z" fill="#8f3cff"/><path d="M135.93 302.61L138.68 297.61L133.18 297.61Z" fill="#8f3cff"/><path d="M141.52 300.43L144.27 295.43L138.77 295.43Z" fill="#8f3cff"/><path d="M147.11 298.25L149.86 293.25L144.36 293.25Z" fill="#8f3cff"/><path d="M152.70 296.07L155.45 291.07L149.95 291.07Z" fill="#8f3cff"/><circle cx="190.70" cy="300.00" r="2.40" fill="#ff0a14"/><circle cx="196.19" cy="298.69" r="2.40" fill="#ff0a14"/><circle cx="201.68" cy="297.38" r="2.40" fill="#ff0a14"/><circle cx="207.17" cy="296.07" r="2.40" fill="#ff0a14"/><circle cx="212.66" cy="294.76" r="2.40" fill="#ff0a14"/><circle cx="218.15" cy="293.45" r="2.40" fill="#ff0a14"/><circle cx="223.64" cy="292.14" r="2.40" fill="#ff0a14"/><circle cx="229.13" cy="290.83" r="2.40" fill="#ff0a14"/><circle cx="234.62" cy="289.52" r="2.40" fill="#ff0a14"/><circle cx="240.11" cy="288.21" r="2.40" fill="#ff0a14"/><circle cx="245.60" cy="286.90" r="2.40" fill="#ff0a14"/><text x="44.00" y="272.59" font-size="8.4" font-weight="bold" fill="#000">164.45 mV dec<tspan font-size="4.20" dy="-3.78">-1</tspan></text><text x="161.40" y="274.29" font-size="8.4" font-weight="bold" fill="#000">151.11 mV dec<tspan font-size="4.20" dy="-3.78">-1</tspan></text><text x="108.40" y="323.79" font-size="8.4" font-weight="bold" fill="#000">146.88 mV dec<tspan font-size="4.20" dy="-3.78">-1</tspan></text><text x="192.60" y="311.69" font-size="8.4" font-weight="bold" fill="#000">88.04 mV dec<tspan font-size="4.20" dy="-3.78">-1</tspan></text><rect x="39.70" y="201.50" width="212.20" height="155.50" fill="none" stroke="#2b2b2b" stroke-width="1.3"/><path d="M67.78 357.00v3.0M101.07 357.00v3.0M134.37 357.00v3.0M167.66 357.00v3.0M200.96 357.00v3.0M234.25 357.00v3.0M51.13 357.00v1.8M84.43 357.00v1.8M117.72 357.00v1.8M151.02 357.00v1.8M184.31 357.00v1.8M217.61 357.00v1.8M250.90 357.00v1.8" stroke="#2b2b2b" stroke-width="1" fill="none"/><text x="67.78" y="367.74" font-size="6.8" font-weight="bold" text-anchor="middle" fill="#000" >0.6</text><text x="101.07" y="367.74" font-size="6.8" font-weight="bold" text-anchor="middle" fill="#000" >0.9</text><text x="134.37" y="367.74" font-size="6.8" font-weight="bold" text-anchor="middle" fill="#000" >1.2</text><text x="167.66" y="367.74" font-size="6.8" font-weight="bold" text-anchor="middle" fill="#000" >1.5</text><text x="200.96" y="367.74" font-size="6.8" font-weight="bold" text-anchor="middle" fill="#000" >1.8</text><text x="234.25" y="367.74" font-size="6.8" font-weight="bold" text-anchor="middle" fill="#000" >2.1</text><path d="M39.70 340.96h-3.0M39.70 310.10h-3.0M39.70 279.25h-3.0M39.70 248.40h-3.0M39.70 217.54h-3.0M39.70 356.38h-1.8M39.70 325.53h-1.8M39.70 294.68h-1.8M39.70 263.82h-1.8M39.70 232.97h-1.8M39.70 202.12h-1.8" stroke="#2b2b2b" stroke-width="1" fill="none"/><text x="33.50" y="343.30" font-size="6.8" font-weight="bold" text-anchor="end" fill="#000" >1.5</text><text x="33.50" y="312.44" font-size="6.8" font-weight="bold" text-anchor="end" fill="#000" >1.6</text><text x="33.50" y="281.59" font-size="6.8" font-weight="bold" text-anchor="end" fill="#000" >1.7</text><text x="33.50" y="250.74" font-size="6.8" font-weight="bold" text-anchor="end" fill="#000" >1.8</text><text x="33.50" y="219.88" font-size="6.8" font-weight="bold" text-anchor="end" fill="#000" >1.9</text><text x="145.8" y="381.69" font-size="8.4" font-weight="bold" text-anchor="middle" fill="#000">log | <tspan font-style="italic">j</tspan> (mA cm<tspan font-size="5.04" dy="-3.36">-2</tspan><tspan dy="3.36">)|</tspan></text><text transform="translate(19.4,277.7) rotate(-90)" x="0" y="2.89" font-size="8.4" font-weight="bold" text-anchor="middle" fill="#000">Overpotential (V)</text><path d="M165.70 209.80H185.30" stroke="#111111" stroke-width="0.9"/><rect x="173.55" y="207.85" width="3.90" height="3.90" fill="#111111"/><text x="187.30" y="212.66" font-size="8.3" font-weight="bold" text-anchor="start" fill="#000" >CC</text><path d="M165.70 220.30H185.30" stroke="#ff70ff" stroke-width="1.0"/><path d="M175.50 217.77L177.92 222.17L173.08 222.17Z" fill="#ff00ff"/><text x="187.30" y="223.16" font-size="8.3" font-weight="bold" text-anchor="start" fill="#000" >CoO/CC</text><path d="M165.70 230.90H185.30" stroke="#a366ff" stroke-width="1.0"/><path d="M175.50 233.43L177.92 229.03L173.08 229.03Z" fill="#8f3cff"/><text x="187.30" y="233.76" font-size="8.3" font-weight="bold" text-anchor="start" fill="#000" >NiO/CC</text><path d="M165.70 241.50H185.30" stroke="#ff8080" stroke-width="1.0"/><circle cx="175.50" cy="241.50" r="2.10" fill="#ff0a14"/><text x="187.30" y="244.36" font-size="8.3" font-weight="bold" text-anchor="start" fill="#000" >NiO@CoO/CC</text><text x="278.20" y="209.90" font-size="14" font-weight="bold" fill="#000">(e)</text><path d="M312.00 234.20 L312.13 234.42 L312.31 234.73 L312.53 235.10 L312.76 235.49 L312.99 235.87 L313.20 236.20 L313.38 236.47 L313.54 236.70 L313.71 236.91 L313.88 237.15 L314.07 237.43 L314.30 237.80 L314.56 238.27 L314.85 238.83 L315.16 239.44 L315.49 240.06 L315.84 240.66 L316.20 241.20 L316.57 241.68 L316.94 242.13 L317.34 242.56 L317.76 242.97 L318.21 243.38 L318.70 243.80 L319.20 244.22 L319.70 244.65 L320.24 245.07 L320.84 245.49 L321.55 245.90 L322.40 246.30 L323.37 246.70 L324.44 247.09 L325.61 247.48 L326.90 247.86 L328.32 248.24 L329.90 248.60 L331.68 248.96 L333.67 249.32 L335.79 249.67 L337.98 250.00 L340.17 250.32 L342.30 250.60 L344.38 250.85 L346.46 251.08 L348.55 251.29 L350.64 251.47 L352.72 251.64 L354.80 251.80 L356.93 251.94 L359.11 252.07 L361.29 252.19 L363.41 252.28 L365.40 252.35 L367.20 252.40 L368.84 252.43 L370.39 252.43 L371.81 252.42 L373.07 252.38 L374.15 252.31 L375.00 252.20 L375.39 252.03 L375.28 251.80 L374.98 251.53 L374.80 251.27 L375.04 251.05 L376.00 250.90 L377.85 250.84 L380.39 250.83 L383.34 250.86 L386.45 250.91 L389.46 250.97 L392.10 251.00 L394.00 251.02 L395.28 251.05 L396.46 251.07 L398.05 251.10 L400.56 251.11 L404.50 251.10 L410.23 251.07 L417.42 251.03 L425.52 250.98 L434.01 250.92 L442.35 250.86 L450.00 250.80 L457.07 250.74 L464.00 250.67 L470.78 250.61 L477.39 250.54 L483.80 250.47 L490.00 250.40 L496.29 250.33 L502.74 250.25 L509.00 250.17 L514.70 250.10 L519.49 250.04 L523.00 250.00" stroke="#ff0a14" stroke-width="3.3" fill="none" stroke-linejoin="round" /><path d="M311.80 324.60 L311.88 324.39 L311.98 324.08 L312.10 323.73 L312.27 323.36 L312.49 323.04 L312.80 322.80 L313.08 322.65 L313.30 322.55 L313.59 322.49 L314.05 322.45 L314.82 322.43 L316.00 322.40 L317.70 322.37 L319.83 322.35 L322.26 322.34 L324.86 322.34 L327.48 322.36 L330.00 322.40 L332.50 322.46 L335.11 322.55 L337.75 322.66 L340.33 322.77 L342.78 322.89 L345.00 323.00 L346.78 323.10 L348.15 323.19 L349.38 323.27 L350.74 323.38 L352.52 323.52 L355.00 323.70 L358.30 323.94 L362.22 324.24 L366.56 324.56 L371.11 324.90 L375.66 325.22 L380.00 325.50 L384.17 325.74 L388.33 325.97 L392.50 326.17 L396.67 326.38 L400.83 326.58 L405.00 326.80 L409.11 327.03 L413.15 327.25 L417.19 327.48 L421.30 327.71 L425.54 327.95 L430.00 328.20 L434.71 328.46 L439.63 328.72 L444.69 328.99 L449.81 329.27 L454.94 329.54 L460.00 329.80 L464.97 330.06 L469.89 330.31 L474.81 330.56 L479.78 330.80 L484.83 331.05 L490.00 331.30 L495.71 331.57 L502.00 331.86 L508.38 332.14 L514.33 332.41 L519.38 332.64 L523.00 332.80" stroke="#1a3de0" stroke-width="3.1" fill="none" stroke-linejoin="round" /><rect x="311.50" y="201.30" width="212.10" height="155.30" fill="none" stroke="#2b2b2b" stroke-width="1.3"/><path d="M311.50 356.60v3.0M340.96 356.60v3.0M370.42 356.60v3.0M399.88 356.60v3.0M429.33 356.60v3.0M458.79 356.60v3.0M488.25 356.60v3.0M517.71 356.60v3.0M326.23 356.60v1.8M355.69 356.60v1.8M385.15 356.60v1.8M414.60 356.60v1.8M444.06 356.60v1.8M473.52 356.60v1.8M502.98 356.60v1.8" stroke="#2b2b2b" stroke-width="1" fill="none"/><text x="311.50" y="366.94" font-size="6.8" font-weight="bold" text-anchor="middle" fill="#000" >0</text><text x="340.96" y="366.94" font-size="6.8" font-weight="bold" text-anchor="middle" fill="#000" >5000</text><text x="370.42" y="366.94" font-size="6.8" font-weight="bold" text-anchor="middle" fill="#000" >10000</text><text x="399.88" y="366.94" font-size="6.8" font-weight="bold" text-anchor="middle" fill="#000" >15000</text><text x="429.33" y="366.94" font-size="6.8" font-weight="bold" text-anchor="middle" fill="#000" >20000</text><text x="458.79" y="366.94" font-size="6.8" font-weight="bold" text-anchor="middle" fill="#000" >25000</text><text x="488.25" y="366.94" font-size="6.8" font-weight="bold" text-anchor="middle" fill="#000" >30000</text><text x="517.71" y="366.94" font-size="6.8" font-weight="bold" text-anchor="middle" fill="#000" >35000</text><path d="M311.50 201.30h-3.0M311.50 218.56h-3.0M311.50 235.81h-3.0M311.50 253.07h-3.0M311.50 270.32h-3.0M311.50 287.58h-3.0M311.50 304.83h-3.0M311.50 322.09h-3.0M311.50 339.34h-3.0M311.50 356.60h-3.0M311.50 209.93h-1.8M311.50 227.18h-1.8M311.50 244.44h-1.8M311.50 261.69h-1.8M311.50 278.95h-1.8M311.50 296.21h-1.8M311.50 313.46h-1.8M311.50 330.72h-1.8M311.50 347.97h-1.8" stroke="#2b2b2b" stroke-width="1" fill="none"/><text x="307.60" y="203.64" font-size="6.8" font-weight="bold" text-anchor="end" fill="#000" >25</text><text x="307.60" y="220.89" font-size="6.8" font-weight="bold" text-anchor="end" fill="#000" >20</text><text x="307.60" y="238.15" font-size="6.8" font-weight="bold" text-anchor="end" fill="#000" >15</text><text x="307.60" y="255.41" font-size="6.8" font-weight="bold" text-anchor="end" fill="#000" >10</text><text x="307.60" y="272.66" font-size="6.8" font-weight="bold" text-anchor="end" fill="#000" >5</text><text x="307.60" y="289.92" font-size="6.8" font-weight="bold" text-anchor="end" fill="#000" >0</text><text x="307.60" y="307.17" font-size="6.8" font-weight="bold" text-anchor="end" fill="#000" >-5</text><text x="307.60" y="324.43" font-size="6.8" font-weight="bold" text-anchor="end" fill="#000" >-10</text><text x="307.60" y="341.68" font-size="6.8" font-weight="bold" text-anchor="end" fill="#000" >-15</text><text x="307.60" y="358.94" font-size="6.8" font-weight="bold" text-anchor="end" fill="#000" >-20</text><text x="418.00" y="381.12" font-size="8.2" font-weight="bold" text-anchor="middle" fill="#000" >Time (S)</text><text transform="translate(289.50,279.70) rotate(-90)" x="0" y="2.89" font-size="8.4" font-weight="bold" text-anchor="middle" fill="#000"><tspan font-style="italic">j</tspan> (mA cm<tspan font-size="5.04" dy="-3.36">-2</tspan><tspan dy="3.36">)</tspan></text><rect x="390.30" y="210.80" width="2.00" height="2.00" fill="#1a3de0"/><rect x="390.30" y="221.40" width="2.00" height="2.00" fill="#ff0a14"/><text transform="translate(402.1,212.0) scale(1,1.16)" x="0" y="2.61" font-size="7.6" font-weight="bold" fill="#000">HER Measured Voltage = -0.21 V</text><text transform="translate(402.1,221.9) scale(1,1.16)" x="0" y="2.61" font-size="7.6" font-weight="bold" fill="#000">OER Measured Voltage = 1.65 V</text><text x="551.00" y="208.90" font-size="14" font-weight="bold" fill="#000">(f)</text><path d="M585.40 356.00 L585.72 355.12 L586.15 353.91 L586.67 352.47 L587.25 350.93 L587.87 349.40 L588.50 348.00 L589.14 346.72 L589.80 345.46 L590.51 344.22 L591.26 342.98 L592.09 341.74 L593.00 340.50 L593.99 339.25 L595.04 338.00 L596.16 336.75 L597.35 335.50 L598.63 334.25 L600.00 333.00 L601.44 331.76 L602.93 330.52 L604.50 329.28 L606.19 328.04 L608.01 326.78 L610.00 325.50 L612.15 324.22 L614.44 322.96 L616.88 321.69 L619.44 320.37 L622.15 318.98 L625.00 317.50 L628.04 315.87 L631.30 314.11 L634.69 312.28 L638.15 310.44 L641.61 308.66 L645.00 307.00 L648.33 305.44 L651.67 303.91 L655.00 302.45 L658.33 301.05 L661.67 299.73 L665.00 298.50 L668.39 297.35 L671.85 296.27 L675.31 295.27 L678.70 294.36 L681.96 293.53 L685.00 292.80 L687.84 292.18 L690.52 291.66 L693.06 291.23 L695.48 290.87 L697.79 290.57 L700.00 290.30 L702.03 290.07 L703.85 289.90 L705.56 289.79 L707.26 289.72 L709.04 289.69 L711.00 289.70 L713.15 289.73 L715.41 289.80 L717.75 289.90 L720.15 290.06 L722.57 290.29 L725.00 290.60 L727.44 291.00 L729.93 291.47 L732.44 292.01 L734.96 292.62 L737.49 293.28 L740.00 294.00 L742.52 294.78 L745.07 295.62 L747.62 296.52 L750.15 297.48 L752.62 298.47 L755.00 299.50 L757.32 300.59 L759.59 301.74 L761.81 302.94 L763.96 304.15 L766.03 305.34 L768.00 306.50 L769.88 307.64 L771.67 308.78 L773.38 309.91 L775.00 311.00 L776.54 312.04 L778.00 313.00 L779.38 313.89 L780.67 314.74 L781.88 315.53 L783.00 316.26 L784.04 316.92 L785.00 317.50 L785.89 318.00 L786.70 318.43 L787.44 318.78 L788.07 319.07 L788.60 319.31 L789.00 319.50" stroke="#111" stroke-width="1.0" fill="none" stroke-linejoin="round" /><path d="M585.40 356.00 L586.10 354.97 L587.06 353.54 L588.20 351.84 L589.45 350.02 L590.74 348.19 L592.00 346.50 L593.23 344.92 L594.49 343.33 L595.79 341.75 L597.13 340.17 L598.53 338.58 L600.00 337.00 L601.53 335.40 L603.11 333.78 L604.75 332.16 L606.44 330.56 L608.19 329.00 L610.00 327.50 L611.87 326.06 L613.81 324.65 L615.81 323.29 L617.85 321.97 L619.92 320.71 L622.00 319.50 L624.09 318.35 L626.19 317.27 L628.31 316.23 L630.48 315.24 L632.71 314.30 L635.00 313.40 L637.41 312.52 L639.93 311.67 L642.50 310.86 L645.07 310.12 L647.59 309.46 L650.00 308.90 L652.28 308.45 L654.48 308.09 L656.62 307.81 L658.74 307.61 L660.86 307.48 L663.00 307.40 L665.18 307.39 L667.37 307.46 L669.56 307.59 L671.74 307.79 L673.89 308.02 L676.00 308.30 L678.08 308.63 L680.15 309.03 L682.19 309.47 L684.19 309.94 L686.13 310.42 L688.00 310.90 L689.90 311.41 L691.85 311.98 L693.75 312.56 L695.48 313.11 L696.94 313.57 L698.00 313.90" stroke="#111" stroke-width="1.0" fill="none" stroke-linejoin="round" /><path d="M586.00 356.00 L586.42 355.46 L587.00 354.70 L587.69 353.81 L588.44 352.85 L589.23 351.89 L590.00 351.00 L590.76 350.16 L591.56 349.31 L592.38 348.47 L593.22 347.63 L594.10 346.80 L595.00 346.00 L595.93 345.19 L596.89 344.37 L597.88 343.57 L598.89 342.80 L599.93 342.11 L601.00 341.50 L602.12 340.98 L603.30 340.53 L604.50 340.14 L605.70 339.83 L606.88 339.58 L608.00 339.40 L609.07 339.30 L610.11 339.28 L611.12 339.33 L612.11 339.44 L613.07 339.60 L614.00 339.80 L614.90 340.04 L615.76 340.33 L616.59 340.68 L617.41 341.07 L618.21 341.51 L619.00 342.00 L619.78 342.53 L620.55 343.11 L621.31 343.74 L622.05 344.42 L622.78 345.17 L623.50 346.00 L624.25 347.00 L625.05 348.19 L625.83 349.45 L626.55 350.65 L627.16 351.68 L627.60 352.40" stroke="#111" stroke-width="0.9" fill="none" stroke-linejoin="round" /><path d="M585.99 358.31L588.30 354.11L583.68 354.11Z" fill="#8f3cff"/><path d="M587.52 356.20L589.83 352.00L585.21 352.00Z" fill="#8f3cff"/><path d="M589.04 354.10L591.35 349.90L586.73 349.90Z" fill="#8f3cff"/><path d="M590.58 352.00L592.89 347.80L588.27 347.80Z" fill="#8f3cff"/><path d="M592.15 349.93L594.46 345.73L589.84 345.73Z" fill="#8f3cff"/><path d="M593.78 347.91L596.09 343.71L591.47 343.71Z" fill="#8f3cff"/><path d="M595.48 345.93L597.79 341.73L593.17 341.73Z" fill="#8f3cff"/><path d="M597.15 343.95L599.46 339.75L594.84 339.75Z" fill="#8f3cff"/><path d="M598.81 341.94L601.12 337.74L596.50 337.74Z" fill="#8f3cff"/><path d="M600.47 339.94L602.78 335.74L598.16 335.74Z" fill="#8f3cff"/><path d="M602.19 337.99L604.50 333.79L599.88 333.79Z" fill="#8f3cff"/><path d="M603.94 336.07L606.25 331.87L601.63 331.87Z" fill="#8f3cff"/><path d="M605.73 334.18L608.04 329.98L603.42 329.98Z" fill="#8f3cff"/><path d="M607.55 332.32L609.86 328.12L605.24 328.12Z" fill="#8f3cff"/><path d="M609.40 330.50L611.71 326.30L607.09 326.30Z" fill="#8f3cff"/><path d="M611.26 328.68L613.57 324.48L608.95 324.48Z" fill="#8f3cff"/><path d="M613.13 326.88L615.44 322.68L610.82 322.68Z" fill="#8f3cff"/><path d="M620.40 320.84L622.54 316.94L618.25 316.94Z" fill="#8f3cff"/><path d="M626.70 317.24L628.85 313.34L624.56 313.34Z" fill="#8f3cff"/><path d="M634.40 314.14L636.54 310.24L632.25 310.24Z" fill="#8f3cff"/><path d="M642.20 311.74L644.35 307.84L640.06 307.84Z" fill="#8f3cff"/><path d="M648.60 310.54L650.75 306.64L646.46 306.64Z" fill="#8f3cff"/><path d="M656.00 309.74L658.14 305.84L653.86 305.84Z" fill="#8f3cff"/><path d="M664.10 309.74L666.25 305.84L661.96 305.84Z" fill="#8f3cff"/><path d="M672.00 310.84L674.14 306.94L669.86 306.94Z" fill="#8f3cff"/><path d="M679.40 312.84L681.54 308.94L677.25 308.94Z" fill="#8f3cff"/><path d="M688.00 315.34L690.14 311.44L685.86 311.44Z" fill="#8f3cff"/><path d="M696.10 318.54L698.25 314.64L693.96 314.64Z" fill="#8f3cff"/><path d="M615.50 324.54L617.64 320.64L613.36 320.64Z" fill="#8f3cff"/><path d="M610.20 329.54L612.35 325.64L608.06 325.64Z" fill="#8f3cff"/><path d="M591.00 351.93L592.98 355.53L589.02 355.53Z" fill="#ff00ff"/><path d="M592.55 350.10L594.53 353.70L590.57 353.70Z" fill="#ff00ff"/><path d="M594.10 348.27L596.08 351.87L592.12 351.87Z" fill="#ff00ff"/><path d="M595.62 346.41L597.60 350.01L593.64 350.01Z" fill="#ff00ff"/><path d="M597.11 344.53L599.09 348.13L595.13 348.13Z" fill="#ff00ff"/><path d="M598.70 342.73L600.68 346.33L596.72 346.33Z" fill="#ff00ff"/><path d="M600.43 341.07L602.41 344.67L598.45 344.67Z" fill="#ff00ff"/><path d="M602.30 339.57L604.28 343.17L600.32 343.17Z" fill="#ff00ff"/><path d="M604.37 338.36L606.35 341.96L602.39 341.96Z" fill="#ff00ff"/><path d="M606.61 337.50L608.59 341.10L604.63 341.10Z" fill="#ff00ff"/><path d="M608.97 337.07L610.95 340.67L606.99 340.67Z" fill="#ff00ff"/><path d="M611.36 337.06L613.34 340.66L609.38 340.66Z" fill="#ff00ff"/><path d="M613.75 337.35L615.73 340.95L611.77 340.95Z" fill="#ff00ff"/><path d="M616.02 338.09L618.00 341.69L614.04 341.69Z" fill="#ff00ff"/><path d="M618.14 339.21L620.12 342.81L616.16 342.81Z" fill="#ff00ff"/><path d="M620.08 340.62L622.06 344.22L618.10 344.22Z" fill="#ff00ff"/><path d="M621.83 342.26L623.81 345.86L619.85 345.86Z" fill="#ff00ff"/><path d="M623.42 344.06L625.40 347.66L621.44 347.66Z" fill="#ff00ff"/><path d="M624.88 345.96L626.86 349.56L622.90 349.56Z" fill="#ff00ff"/><path d="M626.10 348.03L628.08 351.63L624.12 351.63Z" fill="#ff00ff"/><rect x="584.50" y="352.20" width="3.60" height="3.60" fill="#111111"/><rect x="585.50" y="349.70" width="3.60" height="3.60" fill="#111111"/><rect x="586.60" y="347.20" width="3.60" height="3.60" fill="#111111"/><rect x="588.00" y="345.50" width="3.60" height="3.60" fill="#111111"/><rect x="589.40" y="344.10" width="3.60" height="3.60" fill="#111111"/><rect x="591.20" y="339.50" width="3.60" height="3.60" fill="#111111"/><rect x="593.50" y="335.00" width="3.60" height="3.60" fill="#111111"/><rect x="596.20" y="330.90" width="3.60" height="3.60" fill="#111111"/><rect x="599.30" y="327.30" width="3.60" height="3.60" fill="#111111"/><rect x="603.00" y="324.10" width="3.60" height="3.60" fill="#111111"/><rect x="607.70" y="321.50" width="3.60" height="3.60" fill="#111111"/><rect x="613.20" y="318.40" width="3.60" height="3.60" fill="#111111"/><rect x="618.60" y="315.30" width="3.60" height="3.60" fill="#111111"/><rect x="624.90" y="313.00" width="3.60" height="3.60" fill="#111111"/><rect x="631.10" y="309.90" width="3.60" height="3.60" fill="#111111"/><rect x="637.30" y="306.80" width="3.60" height="3.60" fill="#111111"/><rect x="643.50" y="303.60" width="3.60" height="3.60" fill="#111111"/><rect x="650.50" y="300.20" width="3.60" height="3.60" fill="#111111"/><rect x="659.10" y="297.20" width="3.60" height="3.60" fill="#111111"/><rect x="667.20" y="293.60" width="3.60" height="3.60" fill="#111111"/><rect x="676.40" y="291.10" width="3.60" height="3.60" fill="#111111"/><rect x="686.20" y="289.10" width="3.60" height="3.60" fill="#111111"/><rect x="696.00" y="287.40" width="3.60" height="3.60" fill="#111111"/><rect x="707.10" y="286.70" width="3.60" height="3.60" fill="#111111"/><rect x="718.20" y="287.20" width="3.60" height="3.60" fill="#111111"/><rect x="729.30" y="288.60" width="3.60" height="3.60" fill="#111111"/><rect x="740.40" y="291.10" width="3.60" height="3.60" fill="#111111"/><rect x="750.20" y="293.60" width="3.60" height="3.60" fill="#111111"/><rect x="759.30" y="297.70" width="3.60" height="3.60" fill="#111111"/><rect x="767.40" y="300.90" width="3.60" height="3.60" fill="#111111"/><rect x="773.60" y="305.10" width="3.60" height="3.60" fill="#111111"/><rect x="779.00" y="308.80" width="3.60" height="3.60" fill="#111111"/><rect x="782.90" y="312.50" width="3.60" height="3.60" fill="#111111"/><rect x="785.40" y="315.00" width="3.60" height="3.60" fill="#111111"/><rect x="787.10" y="316.90" width="3.60" height="3.60" fill="#111111"/><path d="M588.6 356.5 C590 354.2 594 352 598.4 352 C602 352 603.8 354 604.1 356.5 Z" fill="#ff0a14"/><rect x="584.90" y="201.30" width="211.70" height="155.30" fill="none" stroke="#2b2b2b" stroke-width="1.3"/><path d="M584.90 356.60v3.0M626.90 356.60v3.0M668.91 356.60v3.0M710.91 356.60v3.0M752.92 356.60v3.0M794.92 356.60v3.0M605.90 356.60v1.8M647.91 356.60v1.8M689.91 356.60v1.8M731.91 356.60v1.8M773.92 356.60v1.8" stroke="#2b2b2b" stroke-width="1" fill="none"/><text x="584.90" y="367.24" font-size="6.8" font-weight="bold" text-anchor="middle" fill="#000" >0</text><text x="626.90" y="367.24" font-size="6.8" font-weight="bold" text-anchor="middle" fill="#000" >50</text><text x="668.91" y="367.24" font-size="6.8" font-weight="bold" text-anchor="middle" fill="#000" >100</text><text x="710.91" y="367.24" font-size="6.8" font-weight="bold" text-anchor="middle" fill="#000" >150</text><text x="752.92" y="367.24" font-size="6.8" font-weight="bold" text-anchor="middle" fill="#000" >200</text><text x="794.92" y="367.24" font-size="6.8" font-weight="bold" text-anchor="middle" fill="#000" >250</text><path d="M584.90 356.60h-3.0M584.90 317.78h-3.0M584.90 278.95h-3.0M584.90 240.12h-3.0M584.90 201.30h-3.0M584.90 337.19h-1.8M584.90 298.36h-1.8M584.90 259.54h-1.8M584.90 220.71h-1.8" stroke="#2b2b2b" stroke-width="1" fill="none"/><text x="579.20" y="358.94" font-size="6.8" font-weight="bold" text-anchor="end" fill="#000" >0</text><text x="579.20" y="320.11" font-size="6.8" font-weight="bold" text-anchor="end" fill="#000" >50</text><text x="579.20" y="281.29" font-size="6.8" font-weight="bold" text-anchor="end" fill="#000" >100</text><text x="579.20" y="242.46" font-size="6.8" font-weight="bold" text-anchor="end" fill="#000" >150</text><text x="579.20" y="203.64" font-size="6.8" font-weight="bold" text-anchor="end" fill="#000" >200</text><text x="689.00" y="378.56" font-size="8.3" font-weight="bold" text-anchor="middle" fill="#000" >Z' (ohm)</text><text transform="translate(555.5,275) rotate(-90)" x="0" y="2.89" font-size="8.4" font-weight="bold" text-anchor="middle" fill="#000">-Z" (ohm)</text><path d="M586.80 209.80H605.60" stroke="#111" stroke-width="1.1"/><text x="607.60" y="212.21" font-size="7.0" font-weight="bold" text-anchor="start" fill="#000" >Fitting curves</text><rect x="594.95" y="219.25" width="3.70" height="3.70" fill="#111111"/><text x="607.60" y="223.51" font-size="7.0" font-weight="bold" text-anchor="start" fill="#000" >CC</text><path d="M596.80 229.53L599.16 233.83L594.43 233.83Z" fill="#ff00ff"/><text x="607.60" y="234.41" font-size="7.0" font-weight="bold" text-anchor="start" fill="#000" >CoO/CC</text><path d="M596.80 244.97L599.16 240.67L594.43 240.67Z" fill="#8f3cff"/><text x="607.60" y="244.91" font-size="7.0" font-weight="bold" text-anchor="start" fill="#000" >NiO/CC</text><circle cx="596.80" cy="253.30" r="2.00" fill="#ff0a14"/><text x="607.60" y="255.71" font-size="7.0" font-weight="bold" text-anchor="start" fill="#000" >NiO@CoO/CC</text><path d="M713.8 232L717.5 232L718.70 230.30L721.10 233.70L723.50 230.30L725.90 233.70L728.30 230.30L729.50 232.00L741 232L742.20 230.30L744.60 233.70L747.00 230.30L749.40 233.70L751.80 230.30L753.00 232.00L761.5 232M738.5 232V247.4H747.8M754.2 247.4H757.7V232M742.8 243.3L747.8 247.4L742.8 251.5M749.2 243.3L754.2 247.4L749.2 251.5" stroke="#111" stroke-width="1.1" fill="none" stroke-linejoin="miter"/><text x="721.8" y="224.3" font-size="6.8" fill="#000" style="stroke:none">R<tspan font-size="4.2" dy="1.5">1</tspan></text><text x="746.8" y="224.3" font-size="6.8" fill="#000" style="stroke:none">R<tspan font-size="4.2" dy="1.5">2</tspan></text><text x="741.6" y="260.3" font-size="6.8" fill="#000" style="stroke:none">CPE<tspan font-size="4.2" dy="1.5">1</tspan></text></svg>
</body></html>
